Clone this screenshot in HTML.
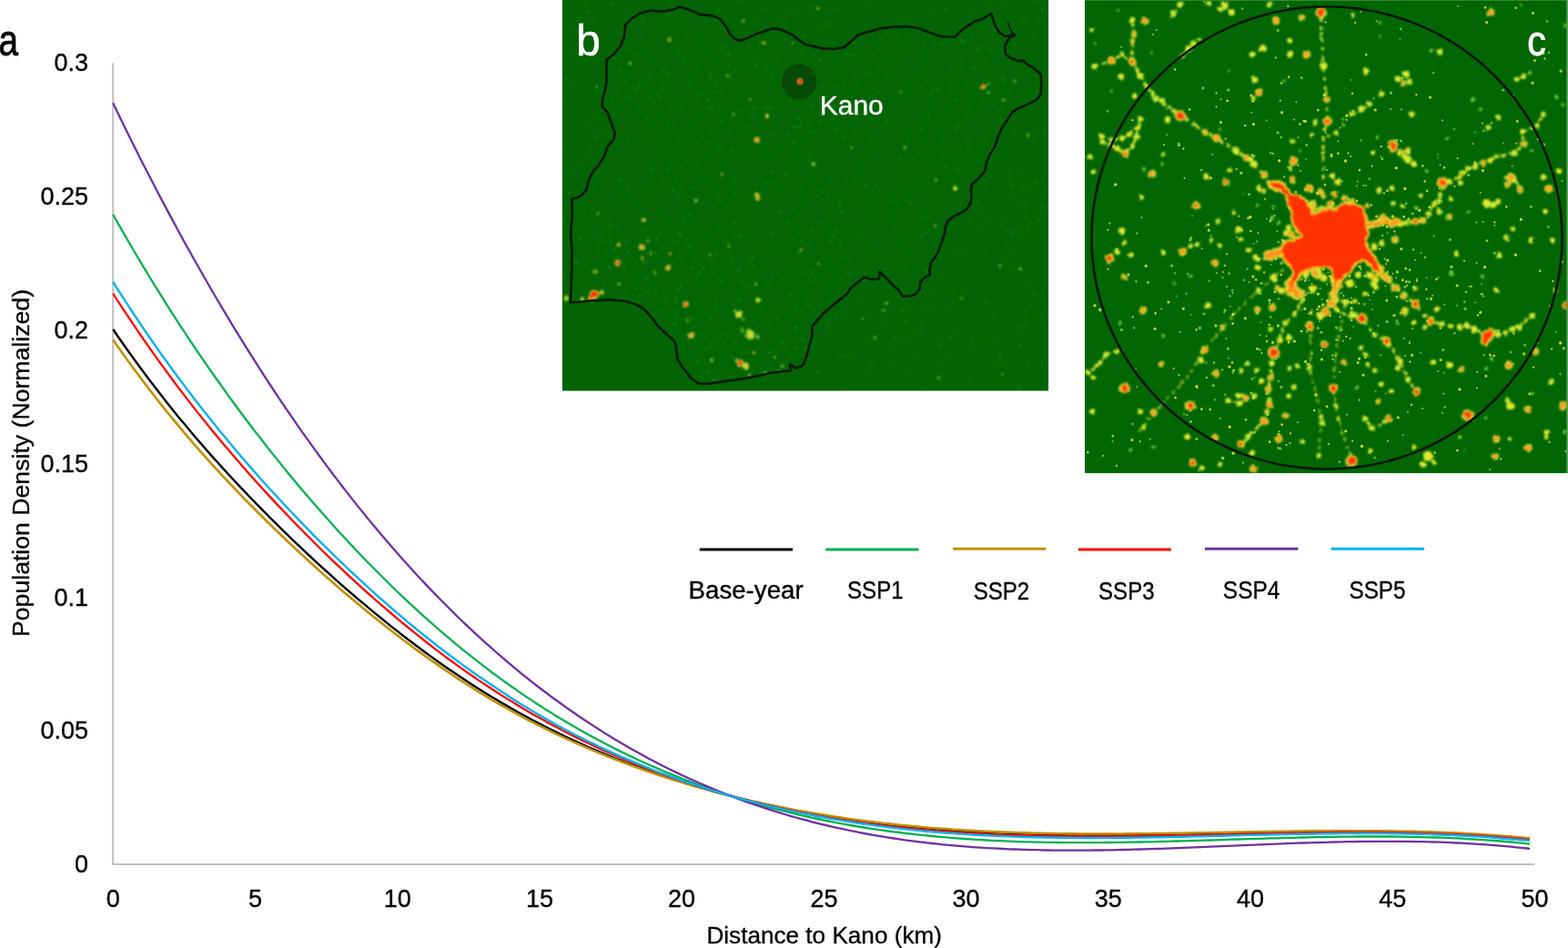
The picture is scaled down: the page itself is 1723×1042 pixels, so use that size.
<!DOCTYPE html>
<html lang="en"><head><meta charset="utf-8"><title>Population density vs distance to Kano</title>
<style>html,body{margin:0;padding:0;background:#fff;}body{width:1723px;height:1042px;overflow:hidden;}svg{display:block;}text{font-family:"Liberation Sans", sans-serif;}</style>
</head><body>
<svg width="1723" height="1042" viewBox="0 0 1723 1042">
<rect x="0" y="0" width="1723" height="1042" fill="#ffffff"/>
<g id="axes" stroke="#bfbfbf" stroke-width="2" fill="none" stroke-linejoin="round" stroke-linecap="round">
<path d="M124.2 70 V950 H1685.6"/>
</g>
<g id="curves" fill="none" stroke-linejoin="round" stroke-linecap="butt">
<path d="M124.2 362.0 L130.2 370.7 L136.2 379.2 L142.2 387.7 L148.2 396.0 L154.2 404.2 L160.2 412.3 L166.2 420.2 L172.2 428.1 L178.2 435.8 L184.2 443.4 L190.2 451.0 L196.2 458.4 L202.2 465.6 L208.2 472.8 L214.2 479.9 L220.2 486.9 L226.2 493.8 L232.2 500.6 L238.2 507.3 L244.2 513.9 L250.2 520.5 L256.2 527.0 L262.2 533.4 L268.2 539.7 L274.2 546.0 L280.2 552.2 L286.2 558.4 L292.2 564.4 L298.2 570.5 L304.2 576.4 L310.2 582.3 L316.2 588.2 L322.2 594.0 L328.2 599.7 L334.2 605.4 L340.2 611.0 L346.2 616.6 L352.2 622.1 L358.2 627.5 L364.2 632.9 L370.2 638.3 L376.2 643.6 L382.2 648.8 L388.2 654.0 L394.2 659.1 L400.2 664.2 L406.2 669.2 L412.2 674.1 L418.2 679.0 L424.2 683.9 L430.2 688.7 L436.2 693.4 L442.2 698.1 L448.2 702.7 L454.2 707.2 L460.2 711.8 L466.2 716.2 L472.2 720.6 L478.2 724.9 L484.2 729.2 L490.2 733.4 L496.2 737.5 L502.2 741.6 L508.2 745.6 L514.2 749.6 L520.2 753.4 L526.2 757.3 L532.2 761.0 L538.2 764.7 L544.2 768.3 L550.2 771.9 L556.2 775.4 L562.2 778.8 L568.2 782.2 L574.2 785.5 L580.2 788.8 L586.2 792.0 L592.2 795.1 L598.2 798.2 L604.2 801.3 L610.2 804.2 L616.2 807.2 L622.2 810.0 L628.2 812.8 L634.2 815.6 L640.2 818.3 L646.2 821.0 L652.2 823.6 L658.2 826.2 L664.2 828.7 L670.2 831.1 L676.2 833.6 L682.2 835.9 L688.2 838.3 L694.2 840.5 L700.2 842.8 L706.2 845.0 L712.2 847.1 L718.2 849.2 L724.2 851.3 L730.2 853.3 L736.2 855.3 L742.2 857.3 L748.2 859.2 L754.2 861.0 L760.2 862.9 L766.2 864.7 L772.2 866.4 L778.2 868.1 L784.2 869.8 L790.2 871.5 L796.2 873.1 L802.2 874.6 L808.2 876.2 L814.2 877.7 L820.2 879.1 L826.2 880.6 L832.2 881.9 L838.2 883.3 L844.2 884.6 L850.2 885.9 L856.2 887.2 L862.2 888.4 L868.2 889.6 L874.2 890.8 L880.2 891.9 L886.2 893.0 L892.2 894.1 L898.2 895.2 L904.2 896.2 L910.2 897.2 L916.2 898.1 L922.2 899.1 L928.2 900.0 L934.2 900.8 L940.2 901.7 L946.2 902.5 L952.2 903.3 L958.2 904.1 L964.2 904.8 L970.2 905.5 L976.2 906.2 L982.2 906.9 L988.2 907.5 L994.2 908.1 L1000.2 908.7 L1006.2 909.3 L1012.2 909.9 L1018.2 910.4 L1024.2 910.9 L1030.2 911.4 L1036.2 911.8 L1042.2 912.3 L1048.2 912.7 L1054.2 913.1 L1060.2 913.5 L1066.2 913.8 L1072.2 914.2 L1078.2 914.5 L1084.2 914.8 L1090.2 915.1 L1096.2 915.3 L1102.2 915.6 L1108.2 915.8 L1114.2 916.0 L1120.2 916.2 L1126.2 916.4 L1132.2 916.6 L1138.2 916.7 L1144.2 916.8 L1150.2 917.0 L1156.2 917.1 L1162.2 917.2 L1168.2 917.2 L1174.2 917.3 L1180.2 917.4 L1186.2 917.4 L1192.2 917.4 L1198.2 917.5 L1204.2 917.5 L1210.2 917.5 L1216.2 917.5 L1222.2 917.5 L1228.2 917.4 L1234.2 917.4 L1240.2 917.3 L1246.2 917.3 L1252.2 917.2 L1258.2 917.2 L1264.2 917.1 L1270.2 917.0 L1276.2 916.9 L1282.2 916.8 L1288.2 916.7 L1294.2 916.6 L1300.2 916.5 L1306.2 916.4 L1312.2 916.3 L1318.2 916.2 L1324.2 916.1 L1330.2 916.0 L1336.2 915.9 L1342.2 915.7 L1348.2 915.6 L1354.2 915.5 L1360.2 915.4 L1366.2 915.3 L1372.2 915.2 L1378.2 915.0 L1384.2 914.9 L1390.2 914.8 L1396.2 914.7 L1402.2 914.6 L1408.2 914.5 L1414.2 914.4 L1420.2 914.3 L1426.2 914.2 L1432.2 914.1 L1438.2 914.1 L1444.2 914.0 L1450.2 913.9 L1456.2 913.9 L1462.2 913.9 L1468.2 913.8 L1474.2 913.8 L1480.2 913.8 L1486.2 913.8 L1492.2 913.8 L1498.2 913.8 L1504.2 913.8 L1510.2 913.8 L1516.2 913.9 L1522.2 914.0 L1528.2 914.0 L1534.2 914.1 L1540.2 914.2 L1546.2 914.3 L1552.2 914.5 L1558.2 914.6 L1564.2 914.8 L1570.2 915.0 L1576.2 915.2 L1582.2 915.4 L1588.2 915.6 L1594.2 915.9 L1600.2 916.1 L1606.2 916.4 L1612.2 916.7 L1618.2 917.1 L1624.2 917.4 L1630.2 917.8 L1636.2 918.2 L1642.2 918.6 L1648.2 919.1 L1654.2 919.5 L1660.2 920.0 L1666.2 920.5 L1672.2 921.1 L1678.2 921.6 L1681.0 921.9" stroke="#000000" stroke-width="2.4"/>
<path d="M124.2 235.8 L130.2 246.4 L136.2 256.9 L142.2 267.3 L148.2 277.5 L154.2 287.6 L160.2 297.6 L166.2 307.5 L172.2 317.2 L178.2 326.9 L184.2 336.4 L190.2 345.8 L196.2 355.1 L202.2 364.2 L208.2 373.3 L214.2 382.3 L220.2 391.1 L226.2 399.8 L232.2 408.5 L238.2 417.0 L244.2 425.4 L250.2 433.8 L256.2 442.0 L262.2 450.2 L268.2 458.2 L274.2 466.2 L280.2 474.1 L286.2 481.8 L292.2 489.5 L298.2 497.1 L304.2 504.6 L310.2 512.1 L316.2 519.4 L322.2 526.7 L328.2 533.9 L334.2 541.0 L340.2 548.0 L346.2 555.0 L352.2 561.8 L358.2 568.6 L364.2 575.3 L370.2 582.0 L376.2 588.5 L382.2 595.0 L388.2 601.4 L394.2 607.8 L400.2 614.0 L406.2 620.2 L412.2 626.3 L418.2 632.3 L424.2 638.3 L430.2 644.2 L436.2 650.0 L442.2 655.7 L448.2 661.4 L454.2 666.9 L460.2 672.4 L466.2 677.9 L472.2 683.2 L478.2 688.5 L484.2 693.7 L490.2 698.9 L496.2 703.9 L502.2 708.9 L508.2 713.8 L514.2 718.7 L520.2 723.4 L526.2 728.1 L532.2 732.7 L538.2 737.3 L544.2 741.7 L550.2 746.1 L556.2 750.5 L562.2 754.7 L568.2 758.9 L574.2 763.1 L580.2 767.1 L586.2 771.1 L592.2 775.0 L598.2 778.9 L604.2 782.6 L610.2 786.4 L616.2 790.0 L622.2 793.6 L628.2 797.1 L634.2 800.6 L640.2 804.0 L646.2 807.3 L652.2 810.6 L658.2 813.8 L664.2 817.0 L670.2 820.1 L676.2 823.1 L682.2 826.1 L688.2 829.0 L694.2 831.9 L700.2 834.7 L706.2 837.5 L712.2 840.2 L718.2 842.8 L724.2 845.4 L730.2 848.0 L736.2 850.4 L742.2 852.9 L748.2 855.3 L754.2 857.6 L760.2 859.9 L766.2 862.2 L772.2 864.4 L778.2 866.5 L784.2 868.6 L790.2 870.6 L796.2 872.6 L802.2 874.6 L808.2 876.5 L814.2 878.4 L820.2 880.2 L826.2 882.0 L832.2 883.7 L838.2 885.4 L844.2 887.1 L850.2 888.7 L856.2 890.2 L862.2 891.7 L868.2 893.2 L874.2 894.7 L880.2 896.1 L886.2 897.4 L892.2 898.8 L898.2 900.0 L904.2 901.3 L910.2 902.5 L916.2 903.7 L922.2 904.8 L928.2 905.9 L934.2 907.0 L940.2 908.0 L946.2 909.0 L952.2 910.0 L958.2 910.9 L964.2 911.8 L970.2 912.6 L976.2 913.5 L982.2 914.3 L988.2 915.0 L994.2 915.8 L1000.2 916.5 L1006.2 917.2 L1012.2 917.8 L1018.2 918.4 L1024.2 919.0 L1030.2 919.6 L1036.2 920.1 L1042.2 920.6 L1048.2 921.1 L1054.2 921.6 L1060.2 922.0 L1066.2 922.4 L1072.2 922.8 L1078.2 923.2 L1084.2 923.5 L1090.2 923.8 L1096.2 924.1 L1102.2 924.4 L1108.2 924.6 L1114.2 924.9 L1120.2 925.1 L1126.2 925.3 L1132.2 925.4 L1138.2 925.6 L1144.2 925.7 L1150.2 925.8 L1156.2 925.9 L1162.2 926.0 L1168.2 926.1 L1174.2 926.1 L1180.2 926.1 L1186.2 926.2 L1192.2 926.2 L1198.2 926.2 L1204.2 926.1 L1210.2 926.1 L1216.2 926.0 L1222.2 926.0 L1228.2 925.9 L1234.2 925.8 L1240.2 925.7 L1246.2 925.6 L1252.2 925.5 L1258.2 925.4 L1264.2 925.3 L1270.2 925.1 L1276.2 925.0 L1282.2 924.8 L1288.2 924.7 L1294.2 924.5 L1300.2 924.4 L1306.2 924.2 L1312.2 924.0 L1318.2 923.8 L1324.2 923.6 L1330.2 923.5 L1336.2 923.3 L1342.2 923.1 L1348.2 922.9 L1354.2 922.7 L1360.2 922.5 L1366.2 922.3 L1372.2 922.1 L1378.2 922.0 L1384.2 921.8 L1390.2 921.6 L1396.2 921.4 L1402.2 921.3 L1408.2 921.1 L1414.2 920.9 L1420.2 920.8 L1426.2 920.6 L1432.2 920.5 L1438.2 920.3 L1444.2 920.2 L1450.2 920.1 L1456.2 920.0 L1462.2 919.9 L1468.2 919.8 L1474.2 919.7 L1480.2 919.6 L1486.2 919.6 L1492.2 919.5 L1498.2 919.5 L1504.2 919.5 L1510.2 919.5 L1516.2 919.5 L1522.2 919.5 L1528.2 919.5 L1534.2 919.6 L1540.2 919.7 L1546.2 919.8 L1552.2 919.9 L1558.2 920.0 L1564.2 920.1 L1570.2 920.3 L1576.2 920.5 L1582.2 920.7 L1588.2 920.9 L1594.2 921.2 L1600.2 921.4 L1606.2 921.7 L1612.2 922.1 L1618.2 922.4 L1624.2 922.8 L1630.2 923.2 L1636.2 923.6 L1642.2 924.0 L1648.2 924.5 L1654.2 925.0 L1660.2 925.5 L1666.2 926.1 L1672.2 926.6 L1678.2 927.3 L1681.0 927.6" stroke="#00b050" stroke-width="2.3"/>
<path d="M124.2 373.4 L130.2 382.0 L136.2 390.4 L142.2 398.7 L148.2 406.9 L154.2 415.0 L160.2 422.9 L166.2 430.7 L172.2 438.5 L178.2 446.1 L184.2 453.5 L190.2 460.9 L196.2 468.2 L202.2 475.3 L208.2 482.4 L214.2 489.3 L220.2 496.2 L226.2 502.9 L232.2 509.6 L238.2 516.1 L244.2 522.6 L250.2 529.0 L256.2 535.4 L262.2 541.6 L268.2 547.8 L274.2 554.0 L280.2 560.0 L286.2 566.0 L292.2 572.0 L298.2 577.9 L304.2 583.7 L310.2 589.5 L316.2 595.2 L322.2 600.9 L328.2 606.5 L334.2 612.0 L340.2 617.5 L346.2 623.0 L352.2 628.4 L358.2 633.7 L364.2 639.0 L370.2 644.2 L376.2 649.4 L382.2 654.5 L388.2 659.5 L394.2 664.6 L400.2 669.5 L406.2 674.4 L412.2 679.3 L418.2 684.1 L424.2 688.8 L430.2 693.5 L436.2 698.1 L442.2 702.7 L448.2 707.2 L454.2 711.7 L460.2 716.1 L466.2 720.4 L472.2 724.7 L478.2 728.9 L484.2 733.1 L490.2 737.2 L496.2 741.3 L502.2 745.3 L508.2 749.2 L514.2 753.0 L520.2 756.8 L526.2 760.6 L532.2 764.2 L538.2 767.8 L544.2 771.4 L550.2 774.8 L556.2 778.2 L562.2 781.6 L568.2 784.9 L574.2 788.1 L580.2 791.3 L586.2 794.4 L592.2 797.4 L598.2 800.4 L604.2 803.4 L610.2 806.3 L616.2 809.1 L622.2 811.9 L628.2 814.6 L634.2 817.3 L640.2 819.9 L646.2 822.5 L652.2 825.1 L658.2 827.6 L664.2 830.0 L670.2 832.4 L676.2 834.7 L682.2 837.0 L688.2 839.3 L694.2 841.5 L700.2 843.7 L706.2 845.8 L712.2 847.9 L718.2 850.0 L724.2 852.0 L730.2 853.9 L736.2 855.9 L742.2 857.8 L748.2 859.6 L754.2 861.4 L760.2 863.2 L766.2 864.9 L772.2 866.6 L778.2 868.3 L784.2 869.9 L790.2 871.5 L796.2 873.1 L802.2 874.6 L808.2 876.1 L814.2 877.6 L820.2 879.0 L826.2 880.4 L832.2 881.8 L838.2 883.1 L844.2 884.4 L850.2 885.6 L856.2 886.9 L862.2 888.1 L868.2 889.2 L874.2 890.4 L880.2 891.5 L886.2 892.6 L892.2 893.6 L898.2 894.6 L904.2 895.6 L910.2 896.6 L916.2 897.5 L922.2 898.4 L928.2 899.3 L934.2 900.2 L940.2 901.0 L946.2 901.8 L952.2 902.6 L958.2 903.3 L964.2 904.0 L970.2 904.7 L976.2 905.4 L982.2 906.1 L988.2 906.7 L994.2 907.3 L1000.2 907.9 L1006.2 908.4 L1012.2 909.0 L1018.2 909.5 L1024.2 910.0 L1030.2 910.5 L1036.2 910.9 L1042.2 911.3 L1048.2 911.8 L1054.2 912.1 L1060.2 912.5 L1066.2 912.9 L1072.2 913.2 L1078.2 913.5 L1084.2 913.8 L1090.2 914.1 L1096.2 914.4 L1102.2 914.6 L1108.2 914.8 L1114.2 915.0 L1120.2 915.2 L1126.2 915.4 L1132.2 915.6 L1138.2 915.7 L1144.2 915.9 L1150.2 916.0 L1156.2 916.1 L1162.2 916.2 L1168.2 916.3 L1174.2 916.4 L1180.2 916.4 L1186.2 916.5 L1192.2 916.5 L1198.2 916.5 L1204.2 916.5 L1210.2 916.5 L1216.2 916.5 L1222.2 916.5 L1228.2 916.5 L1234.2 916.5 L1240.2 916.4 L1246.2 916.4 L1252.2 916.3 L1258.2 916.3 L1264.2 916.2 L1270.2 916.1 L1276.2 916.1 L1282.2 916.0 L1288.2 915.9 L1294.2 915.8 L1300.2 915.7 L1306.2 915.6 L1312.2 915.5 L1318.2 915.4 L1324.2 915.3 L1330.2 915.2 L1336.2 915.1 L1342.2 915.0 L1348.2 914.9 L1354.2 914.7 L1360.2 914.6 L1366.2 914.5 L1372.2 914.4 L1378.2 914.3 L1384.2 914.2 L1390.2 914.1 L1396.2 914.0 L1402.2 913.9 L1408.2 913.8 L1414.2 913.7 L1420.2 913.6 L1426.2 913.6 L1432.2 913.5 L1438.2 913.4 L1444.2 913.4 L1450.2 913.3 L1456.2 913.3 L1462.2 913.2 L1468.2 913.2 L1474.2 913.2 L1480.2 913.2 L1486.2 913.2 L1492.2 913.2 L1498.2 913.2 L1504.2 913.2 L1510.2 913.3 L1516.2 913.3 L1522.2 913.4 L1528.2 913.5 L1534.2 913.5 L1540.2 913.7 L1546.2 913.8 L1552.2 913.9 L1558.2 914.1 L1564.2 914.2 L1570.2 914.4 L1576.2 914.6 L1582.2 914.8 L1588.2 915.1 L1594.2 915.3 L1600.2 915.6 L1606.2 915.9 L1612.2 916.2 L1618.2 916.5 L1624.2 916.9 L1630.2 917.3 L1636.2 917.7 L1642.2 918.1 L1648.2 918.5 L1654.2 919.0 L1660.2 919.5 L1666.2 920.0 L1672.2 920.5 L1678.2 921.1 L1681.0 921.3" stroke="#bf9000" stroke-width="2.6"/>
<path d="M124.2 322.7 L130.2 332.0 L136.2 341.2 L142.2 350.2 L148.2 359.1 L154.2 367.9 L160.2 376.6 L166.2 385.2 L172.2 393.6 L178.2 401.9 L184.2 410.2 L190.2 418.3 L196.2 426.2 L202.2 434.1 L208.2 441.9 L214.2 449.6 L220.2 457.1 L226.2 464.6 L232.2 472.0 L238.2 479.3 L244.2 486.5 L250.2 493.6 L256.2 500.6 L262.2 507.5 L268.2 514.4 L274.2 521.2 L280.2 528.0 L286.2 534.6 L292.2 541.2 L298.2 547.6 L304.2 554.1 L310.2 560.4 L316.2 566.7 L322.2 573.0 L328.2 579.1 L334.2 585.2 L340.2 591.3 L346.2 597.3 L352.2 603.2 L358.2 609.0 L364.2 614.8 L370.2 620.6 L376.2 626.2 L382.2 631.8 L388.2 637.4 L394.2 642.9 L400.2 648.3 L406.2 653.7 L412.2 659.0 L418.2 664.2 L424.2 669.4 L430.2 674.5 L436.2 679.6 L442.2 684.6 L448.2 689.5 L454.2 694.4 L460.2 699.2 L466.2 704.0 L472.2 708.7 L478.2 713.3 L484.2 717.8 L490.2 722.3 L496.2 726.7 L502.2 731.1 L508.2 735.4 L514.2 739.6 L520.2 743.8 L526.2 747.9 L532.2 751.9 L538.2 755.8 L544.2 759.7 L550.2 763.6 L556.2 767.4 L562.2 771.1 L568.2 774.8 L574.2 778.4 L580.2 781.9 L586.2 785.4 L592.2 788.8 L598.2 792.1 L604.2 795.4 L610.2 798.6 L616.2 801.8 L622.2 804.9 L628.2 808.0 L634.2 810.9 L640.2 813.9 L646.2 816.8 L652.2 819.6 L658.2 822.4 L664.2 825.1 L670.2 827.8 L676.2 830.4 L682.2 833.0 L688.2 835.5 L694.2 837.9 L700.2 840.4 L706.2 842.7 L712.2 845.1 L718.2 847.3 L724.2 849.6 L730.2 851.8 L736.2 853.9 L742.2 856.0 L748.2 858.0 L754.2 860.0 L760.2 862.0 L766.2 863.9 L772.2 865.8 L778.2 867.7 L784.2 869.5 L790.2 871.2 L796.2 872.9 L802.2 874.6 L808.2 876.3 L814.2 877.9 L820.2 879.4 L826.2 881.0 L832.2 882.4 L838.2 883.9 L844.2 885.3 L850.2 886.7 L856.2 888.0 L862.2 889.3 L868.2 890.6 L874.2 891.8 L880.2 893.1 L886.2 894.2 L892.2 895.4 L898.2 896.5 L904.2 897.5 L910.2 898.6 L916.2 899.6 L922.2 900.6 L928.2 901.5 L934.2 902.4 L940.2 903.3 L946.2 904.2 L952.2 905.0 L958.2 905.8 L964.2 906.6 L970.2 907.3 L976.2 908.0 L982.2 908.7 L988.2 909.4 L994.2 910.0 L1000.2 910.7 L1006.2 911.2 L1012.2 911.8 L1018.2 912.3 L1024.2 912.9 L1030.2 913.4 L1036.2 913.8 L1042.2 914.3 L1048.2 914.7 L1054.2 915.1 L1060.2 915.5 L1066.2 915.8 L1072.2 916.2 L1078.2 916.5 L1084.2 916.8 L1090.2 917.1 L1096.2 917.3 L1102.2 917.6 L1108.2 917.8 L1114.2 918.0 L1120.2 918.2 L1126.2 918.4 L1132.2 918.5 L1138.2 918.7 L1144.2 918.8 L1150.2 918.9 L1156.2 919.0 L1162.2 919.1 L1168.2 919.1 L1174.2 919.2 L1180.2 919.2 L1186.2 919.3 L1192.2 919.3 L1198.2 919.3 L1204.2 919.3 L1210.2 919.3 L1216.2 919.2 L1222.2 919.2 L1228.2 919.2 L1234.2 919.1 L1240.2 919.1 L1246.2 919.0 L1252.2 918.9 L1258.2 918.8 L1264.2 918.8 L1270.2 918.7 L1276.2 918.6 L1282.2 918.5 L1288.2 918.4 L1294.2 918.3 L1300.2 918.1 L1306.2 918.0 L1312.2 917.9 L1318.2 917.8 L1324.2 917.6 L1330.2 917.5 L1336.2 917.4 L1342.2 917.2 L1348.2 917.1 L1354.2 917.0 L1360.2 916.8 L1366.2 916.7 L1372.2 916.6 L1378.2 916.4 L1384.2 916.3 L1390.2 916.2 L1396.2 916.1 L1402.2 916.0 L1408.2 915.8 L1414.2 915.7 L1420.2 915.6 L1426.2 915.5 L1432.2 915.4 L1438.2 915.4 L1444.2 915.3 L1450.2 915.2 L1456.2 915.1 L1462.2 915.1 L1468.2 915.0 L1474.2 915.0 L1480.2 915.0 L1486.2 914.9 L1492.2 914.9 L1498.2 914.9 L1504.2 915.0 L1510.2 915.0 L1516.2 915.0 L1522.2 915.1 L1528.2 915.2 L1534.2 915.2 L1540.2 915.3 L1546.2 915.4 L1552.2 915.6 L1558.2 915.7 L1564.2 915.9 L1570.2 916.1 L1576.2 916.3 L1582.2 916.5 L1588.2 916.7 L1594.2 917.0 L1600.2 917.2 L1606.2 917.5 L1612.2 917.8 L1618.2 918.2 L1624.2 918.5 L1630.2 918.9 L1636.2 919.3 L1642.2 919.7 L1648.2 920.2 L1654.2 920.6 L1660.2 921.1 L1666.2 921.7 L1672.2 922.2 L1678.2 922.8 L1681.0 923.1" stroke="#ff0000" stroke-width="2.3"/>
<path d="M124.2 113.3 L130.2 125.7 L136.2 138.0 L142.2 150.2 L148.2 162.2 L154.2 174.2 L160.2 185.9 L166.2 197.6 L172.2 209.2 L178.2 220.6 L184.2 231.9 L190.2 243.1 L196.2 254.2 L202.2 265.2 L208.2 276.0 L214.2 286.7 L220.2 297.3 L226.2 307.8 L232.2 318.2 L238.2 328.5 L244.2 338.6 L250.2 348.7 L256.2 358.6 L262.2 368.4 L268.2 378.1 L274.2 387.7 L280.2 397.2 L286.2 406.6 L292.2 415.9 L298.2 425.0 L304.2 434.1 L310.2 443.1 L316.2 451.9 L322.2 460.6 L328.2 469.3 L334.2 477.8 L340.2 486.2 L346.2 494.6 L352.2 502.8 L358.2 510.9 L364.2 519.0 L370.2 526.9 L376.2 534.7 L382.2 542.4 L388.2 550.1 L394.2 557.6 L400.2 565.0 L406.2 572.4 L412.2 579.6 L418.2 586.8 L424.2 593.8 L430.2 600.8 L436.2 607.6 L442.2 614.4 L448.2 621.1 L454.2 627.7 L460.2 634.2 L466.2 640.6 L472.2 646.9 L478.2 653.1 L484.2 659.3 L490.2 665.3 L496.2 671.3 L502.2 677.2 L508.2 683.0 L514.2 688.7 L520.2 694.3 L526.2 699.9 L532.2 705.3 L538.2 710.7 L544.2 716.0 L550.2 721.2 L556.2 726.3 L562.2 731.4 L568.2 736.4 L574.2 741.3 L580.2 746.1 L586.2 750.8 L592.2 755.5 L598.2 760.0 L604.2 764.6 L610.2 769.0 L616.2 773.3 L622.2 777.6 L628.2 781.8 L634.2 786.0 L640.2 790.0 L646.2 794.0 L652.2 797.9 L658.2 801.8 L664.2 805.6 L670.2 809.3 L676.2 812.9 L682.2 816.5 L688.2 820.0 L694.2 823.4 L700.2 826.8 L706.2 830.1 L712.2 833.4 L718.2 836.5 L724.2 839.7 L730.2 842.7 L736.2 845.7 L742.2 848.6 L748.2 851.5 L754.2 854.3 L760.2 857.0 L766.2 859.7 L772.2 862.3 L778.2 864.9 L784.2 867.4 L790.2 869.9 L796.2 872.2 L802.2 874.6 L808.2 876.9 L814.2 879.1 L820.2 881.3 L826.2 883.4 L832.2 885.4 L838.2 887.5 L844.2 889.4 L850.2 891.3 L856.2 893.2 L862.2 895.0 L868.2 896.8 L874.2 898.5 L880.2 900.1 L886.2 901.7 L892.2 903.3 L898.2 904.8 L904.2 906.3 L910.2 907.7 L916.2 909.1 L922.2 910.4 L928.2 911.7 L934.2 913.0 L940.2 914.2 L946.2 915.4 L952.2 916.5 L958.2 917.6 L964.2 918.6 L970.2 919.6 L976.2 920.6 L982.2 921.5 L988.2 922.4 L994.2 923.3 L1000.2 924.1 L1006.2 924.9 L1012.2 925.6 L1018.2 926.3 L1024.2 927.0 L1030.2 927.7 L1036.2 928.3 L1042.2 928.9 L1048.2 929.4 L1054.2 929.9 L1060.2 930.4 L1066.2 930.9 L1072.2 931.3 L1078.2 931.7 L1084.2 932.1 L1090.2 932.4 L1096.2 932.7 L1102.2 933.0 L1108.2 933.3 L1114.2 933.5 L1120.2 933.7 L1126.2 933.9 L1132.2 934.1 L1138.2 934.2 L1144.2 934.4 L1150.2 934.5 L1156.2 934.6 L1162.2 934.6 L1168.2 934.7 L1174.2 934.7 L1180.2 934.7 L1186.2 934.7 L1192.2 934.6 L1198.2 934.6 L1204.2 934.5 L1210.2 934.5 L1216.2 934.4 L1222.2 934.3 L1228.2 934.1 L1234.2 934.0 L1240.2 933.9 L1246.2 933.7 L1252.2 933.5 L1258.2 933.4 L1264.2 933.2 L1270.2 933.0 L1276.2 932.8 L1282.2 932.6 L1288.2 932.3 L1294.2 932.1 L1300.2 931.9 L1306.2 931.6 L1312.2 931.4 L1318.2 931.2 L1324.2 930.9 L1330.2 930.7 L1336.2 930.4 L1342.2 930.1 L1348.2 929.9 L1354.2 929.6 L1360.2 929.4 L1366.2 929.1 L1372.2 928.9 L1378.2 928.6 L1384.2 928.4 L1390.2 928.1 L1396.2 927.9 L1402.2 927.6 L1408.2 927.4 L1414.2 927.2 L1420.2 926.9 L1426.2 926.7 L1432.2 926.5 L1438.2 926.3 L1444.2 926.1 L1450.2 926.0 L1456.2 925.8 L1462.2 925.6 L1468.2 925.5 L1474.2 925.3 L1480.2 925.2 L1486.2 925.1 L1492.2 925.0 L1498.2 924.9 L1504.2 924.9 L1510.2 924.8 L1516.2 924.8 L1522.2 924.8 L1528.2 924.8 L1534.2 924.8 L1540.2 924.9 L1546.2 924.9 L1552.2 925.0 L1558.2 925.1 L1564.2 925.2 L1570.2 925.4 L1576.2 925.5 L1582.2 925.7 L1588.2 925.9 L1594.2 926.2 L1600.2 926.5 L1606.2 926.7 L1612.2 927.1 L1618.2 927.4 L1624.2 927.8 L1630.2 928.2 L1636.2 928.6 L1642.2 929.1 L1648.2 929.6 L1654.2 930.1 L1660.2 930.7 L1666.2 931.3 L1672.2 931.9 L1678.2 932.5 L1681.0 932.8" stroke="#7030a0" stroke-width="2.3"/>
<path d="M124.2 310.0 L130.2 319.4 L136.2 328.7 L142.2 337.9 L148.2 347.0 L154.2 355.9 L160.2 364.8 L166.2 373.5 L172.2 382.1 L178.2 390.6 L184.2 399.0 L190.2 407.2 L196.2 415.4 L202.2 423.4 L208.2 431.3 L214.2 439.2 L220.2 446.9 L226.2 454.5 L232.2 462.1 L238.2 469.5 L244.2 476.9 L250.2 484.1 L256.2 491.3 L262.2 498.4 L268.2 505.5 L274.2 512.4 L280.2 519.3 L286.2 526.1 L292.2 532.7 L298.2 539.3 L304.2 545.8 L310.2 552.3 L316.2 558.7 L322.2 565.0 L328.2 571.3 L334.2 577.5 L340.2 583.7 L346.2 589.8 L352.2 595.8 L358.2 601.7 L364.2 607.6 L370.2 613.5 L376.2 619.2 L382.2 625.0 L388.2 630.6 L394.2 636.2 L400.2 641.7 L406.2 647.2 L412.2 652.6 L418.2 658.0 L424.2 663.2 L430.2 668.5 L436.2 673.6 L442.2 678.7 L448.2 683.8 L454.2 688.7 L460.2 693.7 L466.2 698.5 L472.2 703.3 L478.2 708.0 L484.2 712.7 L490.2 717.3 L496.2 721.8 L502.2 726.2 L508.2 730.6 L514.2 735.0 L520.2 739.2 L526.2 743.4 L532.2 747.5 L538.2 751.6 L544.2 755.6 L550.2 759.6 L556.2 763.5 L562.2 767.4 L568.2 771.2 L574.2 774.9 L580.2 778.6 L586.2 782.2 L592.2 785.7 L598.2 789.2 L604.2 792.6 L610.2 796.0 L616.2 799.3 L622.2 802.5 L628.2 805.7 L634.2 808.8 L640.2 811.8 L646.2 814.8 L652.2 817.7 L658.2 820.6 L664.2 823.4 L670.2 826.2 L676.2 828.9 L682.2 831.6 L688.2 834.2 L694.2 836.7 L700.2 839.2 L706.2 841.7 L712.2 844.1 L718.2 846.5 L724.2 848.8 L730.2 851.0 L736.2 853.2 L742.2 855.4 L748.2 857.5 L754.2 859.6 L760.2 861.6 L766.2 863.6 L772.2 865.6 L778.2 867.5 L784.2 869.3 L790.2 871.1 L796.2 872.9 L802.2 874.6 L808.2 876.3 L814.2 878.0 L820.2 879.6 L826.2 881.1 L832.2 882.7 L838.2 884.2 L844.2 885.6 L850.2 887.1 L856.2 888.4 L862.2 889.8 L868.2 891.1 L874.2 892.4 L880.2 893.6 L886.2 894.8 L892.2 896.0 L898.2 897.2 L904.2 898.3 L910.2 899.4 L916.2 900.4 L922.2 901.4 L928.2 902.4 L934.2 903.3 L940.2 904.3 L946.2 905.2 L952.2 906.0 L958.2 906.9 L964.2 907.7 L970.2 908.4 L976.2 909.2 L982.2 909.9 L988.2 910.6 L994.2 911.3 L1000.2 911.9 L1006.2 912.5 L1012.2 913.1 L1018.2 913.7 L1024.2 914.2 L1030.2 914.7 L1036.2 915.2 L1042.2 915.7 L1048.2 916.1 L1054.2 916.5 L1060.2 916.9 L1066.2 917.3 L1072.2 917.7 L1078.2 918.0 L1084.2 918.3 L1090.2 918.6 L1096.2 918.9 L1102.2 919.1 L1108.2 919.4 L1114.2 919.6 L1120.2 919.8 L1126.2 920.0 L1132.2 920.1 L1138.2 920.3 L1144.2 920.4 L1150.2 920.5 L1156.2 920.6 L1162.2 920.7 L1168.2 920.8 L1174.2 920.9 L1180.2 920.9 L1186.2 920.9 L1192.2 921.0 L1198.2 921.0 L1204.2 921.0 L1210.2 920.9 L1216.2 920.9 L1222.2 920.9 L1228.2 920.8 L1234.2 920.8 L1240.2 920.7 L1246.2 920.6 L1252.2 920.6 L1258.2 920.5 L1264.2 920.4 L1270.2 920.3 L1276.2 920.2 L1282.2 920.0 L1288.2 919.9 L1294.2 919.8 L1300.2 919.7 L1306.2 919.5 L1312.2 919.4 L1318.2 919.3 L1324.2 919.1 L1330.2 919.0 L1336.2 918.8 L1342.2 918.7 L1348.2 918.5 L1354.2 918.4 L1360.2 918.2 L1366.2 918.1 L1372.2 917.9 L1378.2 917.8 L1384.2 917.6 L1390.2 917.5 L1396.2 917.4 L1402.2 917.2 L1408.2 917.1 L1414.2 917.0 L1420.2 916.9 L1426.2 916.8 L1432.2 916.7 L1438.2 916.6 L1444.2 916.5 L1450.2 916.4 L1456.2 916.3 L1462.2 916.2 L1468.2 916.2 L1474.2 916.1 L1480.2 916.1 L1486.2 916.1 L1492.2 916.0 L1498.2 916.0 L1504.2 916.0 L1510.2 916.1 L1516.2 916.1 L1522.2 916.1 L1528.2 916.2 L1534.2 916.3 L1540.2 916.4 L1546.2 916.5 L1552.2 916.6 L1558.2 916.7 L1564.2 916.9 L1570.2 917.1 L1576.2 917.3 L1582.2 917.5 L1588.2 917.7 L1594.2 917.9 L1600.2 918.2 L1606.2 918.5 L1612.2 918.8 L1618.2 919.2 L1624.2 919.5 L1630.2 919.9 L1636.2 920.3 L1642.2 920.7 L1648.2 921.2 L1654.2 921.7 L1660.2 922.2 L1666.2 922.7 L1672.2 923.2 L1678.2 923.8 L1681.0 924.1" stroke="#00b0f0" stroke-width="2.4"/>
</g>
<g id="yticks" font-size="27" fill="#000" text-anchor="end" stroke="#000" stroke-width="0.35">
<text x="97" y="959.2">0</text>
<text x="97" y="812.4">0.05</text>
<text x="97" y="665.5">0.1</text>
<text x="97" y="518.7">0.15</text>
<text x="97" y="371.9">0.2</text>
<text x="97" y="225.0">0.25</text>
<text x="97" y="78.2">0.3</text>
</g>
<g id="xticks" font-size="27" fill="#000" text-anchor="middle" stroke="#000" stroke-width="0.35">
<text x="124.2" y="996.7">0</text>
<text x="280.4" y="996.7">5</text>
<text x="436.7" y="996.7">10</text>
<text x="592.9" y="996.7">15</text>
<text x="749.1" y="996.7">20</text>
<text x="905.4" y="996.7">25</text>
<text x="1061.6" y="996.7">30</text>
<text x="1217.8" y="996.7">35</text>
<text x="1374.0" y="996.7">40</text>
<text x="1530.3" y="996.7">45</text>
<text x="1686.5" y="996.7">50</text>
</g>
<text id="xtitle" stroke="#000" stroke-width="0.3" x="905.7" y="1036.6" font-size="25" text-anchor="middle" textLength="258.5" lengthAdjust="spacingAndGlyphs">Distance to Kano (km)</text>
<text id="ytitle" stroke="#000" stroke-width="0.3" transform="translate(31.7 509) rotate(-90)" font-size="25" text-anchor="middle" textLength="382" lengthAdjust="spacingAndGlyphs">Population Density (Normalized)</text>
<text id="la" stroke="#000" stroke-width="0.9" x="-1.5" y="61.2" font-size="48" textLength="21.5" lengthAdjust="spacingAndGlyphs">a</text>
<g id="legend" font-size="27" text-anchor="middle" fill="#000">
<line x1="768.8" y1="603.9" x2="871.1" y2="603.9" stroke="#000000" stroke-width="3"/>
<text x="819.6" y="658.0" textLength="126" lengthAdjust="spacingAndGlyphs" stroke="#000" stroke-width="0.35">Base-year</text>
<line x1="907.2" y1="603.9" x2="1009.6" y2="603.9" stroke="#00b050" stroke-width="3"/>
<text x="961.8" y="658.0" textLength="61.5" lengthAdjust="spacingAndGlyphs" stroke="#000" stroke-width="0.35">SSP1</text>
<line x1="1047.1" y1="603.2" x2="1149.5" y2="603.2" stroke="#bf9000" stroke-width="3"/>
<text x="1100.5" y="659.2" textLength="61.5" lengthAdjust="spacingAndGlyphs" stroke="#000" stroke-width="0.35">SSP2</text>
<line x1="1184.9" y1="603.9" x2="1287.0" y2="603.9" stroke="#ff0000" stroke-width="3"/>
<text x="1237.8" y="659.2" textLength="61.5" lengthAdjust="spacingAndGlyphs" stroke="#000" stroke-width="0.35">SSP3</text>
<line x1="1324.0" y1="603.2" x2="1426.4" y2="603.2" stroke="#7030a0" stroke-width="3"/>
<text x="1375.1" y="658.0" textLength="62.5" lengthAdjust="spacingAndGlyphs" stroke="#000" stroke-width="0.35">SSP4</text>
<line x1="1462.7" y1="603.2" x2="1565.1" y2="603.2" stroke="#00b0f0" stroke-width="3"/>
<text x="1513.5" y="658.0" textLength="62" lengthAdjust="spacingAndGlyphs" stroke="#000" stroke-width="0.35">SSP5</text>
</g>
<g id="mapb" clip-path="url(#clipb)">
<defs><clipPath id="clipb"><rect x="617.7" y="0.0" width="534.6" height="429.7"/></clipPath>
<filter id="softb" x="-5%" y="-5%" width="110%" height="110%"><feGaussianBlur stdDeviation="0.8"/></filter>
<filter id="roughb" filterUnits="userSpaceOnUse" x="610" y="-8" width="550" height="446"><feTurbulence type="fractalNoise" baseFrequency="0.2" numOctaves="2" seed="9" result="n"/><feDisplacementMap in="SourceGraphic" in2="n" scale="4" xChannelSelector="R" yChannelSelector="G"/><feGaussianBlur stdDeviation="0.8"/></filter></defs>
<rect x="617.7" y="0.0" width="534.6" height="429.7" fill="#036403"/>
<path d="M617.7 333.0 L626.5 332.6 L635.9 332.2 L652.7 330.1 L669.4 329.1 L686.1 331.2 L698.7 334.3 L707.1 339.5 L715.4 347.9 L723.8 358.4 L732.2 366.8 L740.5 375.1 L742.6 381.4 L744.7 394.0 L751.0 404.4 L759.4 414.9 L767.8 421.2 L778.2 422.2 L792.9 420.1 L807.5 418.0 L820.1 415.9 L832.6 412.8 L845.2 410.7 L857.7 408.6 L869.2 407.6 L868.2 400.2 L874.5 404.4 L880.7 402.3 L890.0 404.0 L905.0 418.0 L925.0 429.7 L617.7 429.7Z" fill="#026302" fill-opacity="0.25"/>
<path d="M626.8 332.5 L627.6 318.4 L628.2 297.6 L628.5 276.3 L627.1 256.3 L628.8 234.7 L628.5 219.1 L633.2 217.3 L637.9 215.5 L644.5 208.8 L646.4 198.6 L652.0 187.9 L657.0 182.4 L663.9 172.0 L667.7 160.6 L673.8 154.3 L675.7 146.4 L671.2 133.7 L667.6 123.3 L661.7 117.4 L662.0 109.1 L665.0 98.2 L666.6 87.9 L666.3 77.2 L666.8 65.3 L675.3 58.9 L681.8 50.7 L686.0 40.2 L687.2 26.9 L694.8 20.1 L703.1 14.6 L715.2 11.6 L727.6 12.7 L740.7 10.3 L747.1 7.6 L757.2 10.8 L769.7 15.9 L782.5 17.2 L791.3 21.1 L797.4 28.9 L802.5 38.0 L807.4 42.9 L813.8 44.8 L822.0 41.8 L830.0 37.6 L841.1 33.9 L849.8 31.2 L860.3 33.2 L870.6 38.4 L878.6 44.6 L885.3 48.9 L891.0 50.2 L903.7 53.4 L916.5 54.0 L927.3 52.1 L935.3 45.6 L943.2 38.4 L954.0 35.0 L967.1 31.4 L981.3 29.5 L996.4 29.1 L1008.8 30.9 L1019.1 34.8 L1029.5 38.9 L1038.0 40.3 L1049.9 40.5 L1054.3 35.3 L1062.5 29.0 L1071.4 23.4 L1079.5 20.8 L1085.9 16.9 L1089.4 15.1 L1091.1 21.1 L1094.2 29.6 L1098.3 35.9 L1104.8 40.0 L1112.2 38.5 L1107.9 43.5 L1104.3 50.2 L1104.8 58.9 L1110.6 63.9 L1119.4 67.1 L1123.9 66.6 L1127.9 70.1 L1136.3 75.1 L1143.6 81.8 L1144.3 92.6 L1143.8 103.0 L1139.1 109.8 L1129.7 114.6 L1119.0 119.0 L1112.5 123.1 L1107.1 131.6 L1100.2 142.0 L1096.6 150.7 L1093.3 161.1 L1087.8 169.5 L1084.3 177.6 L1082.0 188.1 L1075.2 196.5 L1067.8 202.4 L1067.0 211.0 L1067.7 213.6 L1066.9 222.3 L1063.1 229.1 L1057.1 233.6 L1048.4 237.4 L1041.6 242.6 L1038.8 249.9 L1037.7 258.1 L1034.7 265.9 L1031.8 275.0 L1027.4 282.9 L1022.6 289.2 L1021.5 297.6 L1022.0 301.7 L1016.5 304.8 L1011.4 309.8 L1010.7 317.5 L1006.0 323.5 L999.6 325.6 L991.7 325.4 L987.2 318.5 L981.6 314.0 L974.6 306.5 L969.0 301.6 L966.7 298.5 L966.0 306.5 L957.9 307.1 L949.6 304.9 L943.9 309.4 L935.0 316.4 L931.1 322.7 L922.9 329.4 L914.2 336.4 L905.6 343.6 L898.1 352.1 L892.5 358.5 L892.5 369.1 L889.0 381.2 L885.5 394.0 L883.5 398.8 L881.0 402.3 L874.4 404.8 L867.8 400.2 L869.0 407.4 L858.0 408.5 L845.5 410.2 L833.1 413.2 L820.2 415.6 L807.7 417.7 L792.7 419.6 L777.8 421.9 L767.4 421.5 L759.1 415.2 L750.5 404.0 L744.3 394.4 L743.0 380.9 L741.0 374.8 L731.9 366.8 L723.5 358.9 L715.3 348.0 L707.1 339.3 L698.9 334.8 L686.2 330.8 L669.7 329.3 L652.7 330.3 L635.7 332.0Z" fill="#0a780a" fill-opacity="0.08"/>
<g filter="url(#softb)" fill="none" stroke-linecap="round" stroke-linejoin="round">
<path d="M755.2 66.9h0M1065.6 98.3h0M777.2 5.6h0M1031.4 258.1h0M981.7 248.0h0M805.2 208.4h0M915.6 259.2h0M1046.7 176.7h0M688.9 266.9h0M747.0 67.9h0M640.3 25.1h0M1114.4 117.4h0M820.9 292.2h0M837.9 328.2h0M1150.9 105.7h0M826.7 78.4h0M941.0 394.7h0M916.3 278.0h0M1143.0 344.9h0M1043.9 115.8h0M910.5 313.0h0M719.7 110.9h0M1109.1 91.3h0M754.5 50.1h0M763.0 259.1h0M777.1 59.9h0M1144.5 326.2h0M1070.3 187.8h0M751.0 17.5h0M818.4 412.6h0M708.2 81.4h0M758.2 185.9h0M1009.4 169.1h0M808.0 86.1h0M1090.1 410.3h0M756.3 388.2h0M1140.8 83.7h0M703.2 324.4h0M764.6 359.2h0M894.7 225.0h0M828.6 308.4h0M830.8 88.8h0M681.5 118.2h0M906.9 283.3h0M820.5 174.8h0M1047.5 320.5h0M814.2 408.2h0M879.0 151.1h0M757.7 254.6h0M692.3 287.6h0M744.9 213.3h0M622.5 74.4h0M1137.7 5.3h0M1138.1 81.7h0M1043.8 194.8h0M822.2 256.1h0M1016.9 53.2h0M856.9 34.7h0M959.4 156.4h0M788.5 11.2h0M678.2 284.3h0M916.6 152.4h0M768.8 303.0h0M641.9 267.7h0M766.4 162.3h0M848.5 274.0h0M883.9 279.9h0M773.8 33.0h0M753.1 104.1h0M797.4 56.1h0M736.3 370.4h0M817.0 212.7h0M791.4 355.5h0M890.0 296.3h0M632.6 243.3h0M819.2 138.0h0M970.9 418.0h0M988.9 191.9h0M1052.5 408.5h0M995.2 338.0h0M661.9 251.8h0M1022.7 116.0h0M1110.3 190.0h0M956.0 83.7h0M704.2 279.6h0M802.1 120.2h0M1142.9 251.3h0M720.6 261.0h0M988.4 49.8h0M885.1 330.1h0M921.7 390.2h0M825.1 123.2h0M1006.4 252.4h0M799.0 227.8h0M1012.0 93.9h0M633.8 309.0h0M791.1 46.4h0M1095.4 112.2h0M882.2 120.4h0M936.8 45.3h0M735.8 273.0h0M891.1 62.6h0M914.7 169.3h0M917.2 182.7h0M857.2 209.3h0M679.0 197.6h0M957.5 43.9h0M700.3 330.9h0M917.9 55.0h0M757.1 84.3h0M786.4 337.4h0M946.6 48.7h0M841.7 246.3h0M790.5 143.0h0M1087.4 239.9h0M714.5 195.2h0M770.0 347.9h0M759.7 277.1h0M722.2 278.4h0M1138.2 81.8h0M968.2 139.2h0M1055.3 192.6h0M728.3 273.9h0M654.2 55.5h0M707.2 320.8h0M988.5 223.3h0M893.4 335.4h0M642.7 21.1h0M762.6 139.6h0M839.4 96.3h0M894.1 280.3h0M940.4 227.3h0M802.4 146.5h0M919.2 349.4h0M1035.5 144.1h0M874.8 251.4h0M1035.2 223.3h0M726.9 229.2h0M1108.7 253.3h0M766.6 37.2h0M949.3 186.4h0M777.8 360.2h0M726.1 155.3h0M733.6 281.1h0M1096.3 42.7h0M881.0 368.3h0M832.6 347.6h0M1016.0 322.0h0M998.6 327.7h0M724.7 128.8h0M1067.8 41.1h0M714.8 336.0h0M1062.0 319.4h0M867.7 102.6h0M993.1 297.3h0M751.0 377.0h0M640.3 57.4h0M1106.9 40.8h0M869.5 296.9h0M979.5 234.2h0M946.3 148.9h0M1120.0 80.3h0M901.0 53.6h0M827.4 49.3h0M1015.1 183.0h0M1085.7 252.6h0M801.5 59.9h0M1094.8 153.2h0M913.1 258.8h0M738.0 345.1h0M957.1 233.9h0M945.5 255.9h0M732.4 212.3h0M748.3 31.5h0M840.2 393.1h0M667.7 317.6h0M979.3 299.1h0M986.7 142.1h0M838.6 199.3h0M1014.3 71.7h0M633.7 285.9h0M1018.4 222.5h0M717.7 280.2h0M1080.5 362.6h0M754.5 367.9h0M821.2 97.2h0M939.7 69.1h0M942.0 65.6h0M707.4 18.7h0M872.6 155.0h0M1058.9 31.0h0M770.2 289.4h0M866.4 264.3h0M938.0 195.8h0M1086.5 53.3h0M908.4 297.7h0M724.6 142.2h0M1029.9 148.6h0M786.6 291.9h0M932.1 98.8h0M869.0 331.6h0M844.5 118.3h0M857.1 107.2h0M783.1 159.0h0M766.4 397.6h0M763.1 410.2h0M682.3 124.0h0M656.0 192.2h0M1021.8 39.4h0M800.7 56.5h0M1130.6 269.8h0M974.5 79.9h0M860.7 377.7h0M1031.3 209.6h0M1082.9 205.0h0M819.1 117.7h0M689.1 82.8h0M724.4 101.7h0M1127.6 50.9h0M973.1 136.9h0M824.2 288.6h0M861.9 21.9h0M882.9 269.1h0M850.9 109.5h0M881.9 91.9h0M712.1 144.3h0M697.4 101.0h0M914.8 116.4h0M827.1 298.3h0M847.6 369.9h0M956.0 145.4h0M784.3 335.6h0M839.3 75.1h0M690.3 317.3h0M909.6 252.8h0M791.0 351.8h0M725.7 159.5h0M724.0 102.3h0M969.4 123.6h0M715.2 106.1h0M965.4 129.1h0M828.9 130.3h0M633.5 16.4h0M840.6 324.2h0M848.7 86.3h0M758.4 386.2h0M1083.4 68.9h0M1106.5 268.8h0M950.8 118.1h0M787.9 278.3h0M844.9 355.4h0M909.5 153.6h0M771.1 408.8h0M658.2 278.4h0M661.9 253.9h0M862.8 381.3h0M954.4 170.4h0M1032.7 124.7h0M748.8 384.6h0M663.6 291.8h0M955.2 83.1h0M748.7 256.9h0M735.3 299.6h0M788.3 114.2h0M894.0 332.3h0M880.3 347.3h0M821.8 353.2h0M959.1 57.1h0M688.9 13.0h0M739.4 22.6h0M940.0 196.3h0M1004.2 174.6h0M987.4 282.9h0M1064.5 111.3h0M785.2 141.6h0M830.8 72.4h0M953.8 309.9h0M822.3 128.6h0M921.3 324.3h0M911.5 252.8h0M875.7 64.9h0M780.0 117.1h0M1053.0 104.6h0M895.4 68.2h0M926.2 62.6h0M897.2 173.8h0M910.3 330.3h0M653.6 262.4h0M1050.4 281.7h0M661.1 196.1h0M975.4 289.7h0M797.4 389.8h0M823.8 401.4h0M722.3 262.2h0M810.0 307.0h0M834.2 303.4h0M836.0 392.6h0M804.5 277.5h0M844.2 256.1h0M931.9 39.7h0M943.0 218.2h0M625.8 42.5h0M780.5 325.4h0M1083.9 374.4h0M775.5 361.4h0M901.4 246.4h0M902.2 54.2h0M954.8 28.7h0M841.7 278.9h0M687.0 213.1h0M978.5 24.6h0M1061.0 352.5h0M672.6 33.2h0M1067.3 179.0h0M639.5 261.1h0M809.5 227.7h0M711.5 215.0h0M795.4 336.1h0M981.2 229.3h0M1076.2 144.2h0M922.9 86.3h0M703.9 325.8h0M867.2 403.9h0M748.7 316.0h0M981.3 245.3h0M768.5 47.8h0M995.5 213.2h0M825.2 139.0h0M1006.7 83.6h0M999.4 140.9h0M1012.0 236.9h0M910.3 324.4h0M679.1 290.4h0M1005.1 389.4h0M1138.7 240.3h0M715.7 189.1h0M1149.7 203.8h0M1019.1 230.5h0M950.3 254.9h0M820.2 345.8h0M992.8 88.9h0M907.4 239.6h0M777.6 199.1h0M783.1 367.6h0M1002.2 237.8h0M855.0 299.8h0M1073.4 151.0h0M811.8 259.1h0M1096.1 312.3h0M807.7 329.1h0M832.4 177.6h0M813.9 192.8h0M976.6 68.1h0M1080.8 385.2h0M1083.2 70.0h0M719.4 314.2h0M878.1 171.7h0M979.3 222.8h0M719.2 65.9h0M1143.2 215.5h0M953.1 186.8h0M656.0 303.7h0M822.1 314.6h0M675.3 117.2h0M743.0 360.1h0M1010.5 169.8h0M1041.5 104.3h0M907.5 321.9h0M646.2 325.6h0M895.3 194.8h0M1119.1 358.0h0M863.9 36.0h0M743.2 166.6h0M818.9 301.7h0M923.9 349.2h0M764.4 94.7h0M782.5 293.5h0M749.1 183.9h0M777.1 109.5h0M885.5 155.0h0M833.0 306.9h0M783.9 155.2h0M1043.7 131.6h0M887.2 327.9h0M885.3 130.1h0M1127.0 76.1h0M1143.1 245.8h0M803.6 382.7h0M951.6 250.6h0M728.5 196.9h0M766.0 405.0h0M848.3 174.2h0M1119.0 224.0h0M739.1 98.5h0M1131.3 206.0h0M737.5 168.7h0M912.7 318.1h0M870.7 307.6h0M845.9 309.1h0M875.1 71.4h0M635.8 179.3h0M757.8 355.5h0M647.9 134.9h0M707.9 305.0h0M962.3 412.5h0M645.1 302.8h0M784.2 285.2h0M805.4 374.2h0M897.9 407.9h0M940.1 20.8h0M1142.3 261.8h0M954.3 7.1h0M816.2 395.2h0M699.2 290.8h0M939.2 84.0h0M736.1 345.2h0M742.0 344.3h0M913.5 94.0h0M834.8 299.1h0M890.1 297.1h0M804.0 278.3h0M1087.7 88.9h0M706.2 253.2h0M717.5 174.9h0M917.7 298.7h0M699.0 226.1h0M699.9 62.5h0M768.4 415.6h0M829.6 236.0h0M778.7 176.4h0M713.1 254.0h0M930.6 218.6h0M1124.8 211.1h0M1051.1 93.0h0M742.9 310.8h0M844.6 311.2h0M743.8 109.8h0M886.7 376.6h0M1052.7 142.2h0M1106.5 369.4h0M1069.6 382.9h0M816.4 56.8h0M725.1 18.7h0M837.8 206.6h0M1085.4 53.4h0M840.3 291.8h0M825.4 315.3h0M777.5 269.2h0M839.1 119.6h0M722.7 298.3h0M988.7 204.5h0M650.5 317.9h0M646.9 136.9h0M1039.7 34.2h0M827.8 285.2h0M981.9 239.9h0M633.9 293.2h0M662.0 255.6h0M947.6 177.8h0M820.9 84.0h0M772.2 263.5h0M1083.5 275.6h0M887.1 316.5h0M669.6 252.5h0M827.9 397.3h0M766.5 375.9h0M842.8 77.9h0M777.5 100.8h0M884.5 227.0h0M997.5 410.1h0M1147.4 428.3h0M929.4 70.8h0M995.1 147.9h0M745.4 318.5h0M885.0 121.6h0M820.5 16.7h0M774.6 396.4h0M796.7 288.3h0M1136.7 153.0h0M847.7 328.6h0M741.3 344.2h0M1082.8 156.1h0M711.5 263.0h0M884.5 334.6h0M1046.8 331.3h0M825.0 173.6h0M1001.2 236.2h0M792.1 342.0h0M860.0 374.0h0M733.3 238.8h0M928.9 90.1h0M802.9 349.5h0M769.3 352.3h0M728.7 284.6h0M753.0 267.7h0M853.6 19.4h0" stroke="#3fae34" stroke-width="1.6" stroke-opacity="0.38"/>
<path d="M987.6 223.9h0M785.1 240.7h0M821.2 313.7h0M746.1 279.1h0M792.1 194.8h0M1037.8 168.5h0M819.5 147.1h0M1007.0 200.6h0M1081.9 3.7h0M982.0 382.9h0M834.6 103.9h0M864.4 192.9h0M699.1 312.8h0M863.3 184.5h0M743.1 355.9h0M1070.6 14.5h0M943.9 62.5h0M878.3 257.4h0M892.3 35.1h0M804.8 358.4h0M682.5 315.1h0M810.5 362.1h0M797.8 258.3h0M807.3 196.0h0M1074.1 232.1h0M992.7 203.5h0M1029.5 247.7h0M781.5 409.3h0M875.0 205.2h0M957.6 59.8h0M949.5 309.3h0M996.7 83.1h0M789.4 92.5h0M830.9 203.4h0M766.2 336.2h0M1111.0 297.3h0M1137.7 92.3h0M1076.5 116.5h0M926.3 391.3h0M896.4 6.3h0M781.0 349.2h0M820.9 401.4h0M1094.3 373.8h0M873.8 341.0h0M750.6 230.2h0M911.1 198.1h0M951.9 308.3h0M1074.8 175.7h0M667.1 289.1h0M765.7 301.8h0M940.4 195.5h0M818.6 158.6h0M843.1 323.8h0M710.7 289.7h0M951.8 204.6h0M919.7 56.1h0M897.4 272.2h0M848.1 78.9h0M780.3 258.6h0M892.0 353.8h0M844.8 41.3h0M729.6 324.7h0M879.8 339.7h0M660.7 116.7h0M834.5 406.2h0M777.6 314.0h0M794.3 88.9h0M933.7 53.5h0M641.3 229.3h0M737.5 254.2h0M802.9 87.1h0M838.6 157.6h0M918.0 69.6h0M818.5 72.6h0M1049.0 66.7h0M996.8 258.4h0M866.4 299.3h0M731.9 297.0h0M634.2 287.6h0M803.5 79.2h0M714.3 108.0h0M800.2 141.5h0M1009.4 131.1h0M768.5 200.3h0M789.1 250.8h0M860.0 164.8h0M1109.4 278.3h0M996.1 313.8h0M988.3 235.9h0M904.5 244.5h0M732.0 305.8h0M792.4 55.6h0M692.1 234.2h0M770.2 124.1h0M687.9 213.4h0M756.9 46.1h0M770.4 298.8h0M1026.0 163.3h0M777.8 345.9h0M1067.4 36.8h0M854.2 96.4h0M915.3 100.2h0M707.6 287.4h0M1018.0 296.9h0M1072.8 28.8h0M862.1 201.6h0M883.0 247.2h0M786.2 403.2h0M1098.6 22.7h0M752.4 238.5h0M955.7 270.6h0M869.9 268.3h0M710.5 287.5h0M809.6 59.4h0M1008.0 75.4h0M786.6 272.5h0M814.6 322.3h0M674.0 274.5h0M934.1 136.9h0M805.4 82.3h0M735.0 153.3h0M927.6 98.9h0M809.8 140.8h0M857.3 276.8h0M812.3 295.9h0M758.3 369.6h0M772.6 368.0h0M890.0 7.9h0M671.0 225.7h0M884.7 373.7h0M700.7 241.7h0M846.5 172.8h0M825.6 233.1h0M649.0 298.1h0M925.2 256.6h0M803.8 17.7h0M1016.0 47.1h0M712.9 260.7h0M656.9 183.1h0M623.9 229.4h0M890.9 82.9h0M812.7 72.8h0M691.7 110.3h0M705.2 19.4h0M973.2 34.6h0M812.1 129.9h0M913.1 138.4h0M853.3 63.1h0M765.2 280.4h0M747.6 259.3h0M901.6 187.3h0M696.7 331.2h0M707.0 200.1h0M697.0 298.4h0M778.9 79.4h0M997.3 170.8h0M800.4 59.6h0M898.4 207.3h0M634.7 20.0h0M620.5 305.1h0M859.4 307.4h0M918.6 347.6h0M811.2 298.7h0M861.6 109.7h0M654.7 314.9h0M770.6 145.5h0M1031.8 141.8h0M821.7 57.0h0M844.6 388.9h0M620.0 304.0h0M871.9 167.8h0M844.7 57.0h0M665.2 264.6h0M902.0 124.6h0M888.7 143.9h0M942.8 329.6h0M722.3 205.0h0M744.4 333.0h0M737.8 119.4h0M927.4 91.1h0M855.1 35.6h0M771.1 151.8h0M711.8 305.5h0M788.6 64.6h0M700.5 99.5h0M832.2 384.0h0M997.0 219.6h0M1106.0 105.4h0M1011.2 166.8h0M808.4 396.3h0M755.8 216.3h0M854.4 34.5h0M768.2 110.5h0M670.5 218.5h0M1062.4 168.6h0M756.1 112.7h0M862.2 99.0h0M685.9 273.6h0M1021.2 252.0h0M704.3 40.8h0M745.1 53.6h0M938.3 64.6h0M983.1 140.5h0M1018.5 269.2h0M668.0 139.2h0M872.1 262.5h0M699.4 289.1h0M837.5 63.4h0M970.5 108.8h0M958.9 37.6h0M791.3 28.1h0M781.2 380.2h0M799.7 414.5h0M873.8 215.0h0M1023.3 10.5h0M1017.0 153.2h0M791.7 131.9h0M720.9 35.9h0M820.1 51.2h0M667.8 278.2h0M924.6 341.2h0M815.0 235.8h0M867.2 395.2h0M832.0 109.1h0M820.4 361.8h0M671.9 248.5h0M1013.8 262.9h0M634.7 34.5h0M835.1 358.1h0M760.7 383.7h0M811.1 231.8h0M839.3 85.1h0M1018.6 424.4h0M873.8 192.3h0M619.5 112.5h0M736.2 104.0h0M1013.4 242.4h0M959.2 214.4h0M877.4 45.8h0M766.0 307.2h0M777.5 304.4h0M979.2 402.6h0M765.9 55.6h0M843.7 117.9h0M858.0 126.3h0M798.3 228.4h0M876.3 337.5h0M1054.8 274.9h0M1026.8 323.3h0M817.9 368.4h0M709.3 253.7h0M680.1 223.3h0M954.4 376.0h0M1017.9 256.1h0M1120.0 261.6h0M1020.5 124.5h0M711.3 107.3h0M994.7 245.6h0M622.8 156.8h0M951.5 239.3h0M877.0 403.4h0M833.3 330.6h0M767.8 357.0h0M815.0 409.6h0M730.8 333.9h0M955.7 213.2h0M1128.7 310.4h0M990.3 262.2h0M746.8 380.0h0M745.5 100.3h0M922.0 178.0h0M1037.9 205.1h0M786.5 373.2h0M633.8 289.5h0M927.5 118.1h0M645.8 263.7h0M729.0 322.6h0M778.9 220.1h0M1142.2 22.6h0M827.1 270.8h0M875.5 130.7h0M961.9 85.0h0M773.8 294.5h0M779.5 84.3h0M724.1 169.4h0M761.3 271.9h0M753.0 238.8h0M908.2 336.7h0M1106.1 5.0h0M1043.0 86.8h0M804.7 290.5h0M658.8 288.4h0M926.0 344.5h0M688.4 128.5h0M791.6 100.5h0M621.4 88.1h0M626.4 189.4h0M631.7 229.9h0M782.6 118.9h0M742.7 249.3h0M759.2 67.1h0M994.2 62.2h0M668.3 251.5h0M841.6 141.9h0M1052.3 189.2h0M862.9 268.0h0M712.4 207.3h0M784.3 123.0h0M797.5 350.4h0M742.2 320.0h0M883.5 291.5h0M765.7 332.2h0M937.0 37.8h0M794.8 37.2h0M1040.9 42.6h0M1135.1 148.1h0M1103.3 101.0h0M992.4 110.6h0M961.5 167.6h0M742.0 14.5h0M788.7 384.7h0M706.8 112.3h0M699.3 125.3h0M857.1 83.9h0M780.1 350.6h0M669.5 307.5h0M751.3 66.6h0M930.4 123.1h0M685.5 208.5h0M922.0 84.0h0M854.7 300.4h0M1148.2 43.6h0M888.0 173.9h0M773.2 133.3h0M954.9 72.3h0M1032.0 396.4h0M836.8 274.6h0M963.2 110.4h0M1085.3 30.0h0M1059.8 152.0h0M1040.6 389.1h0M1071.5 73.9h0M900.7 29.0h0M842.0 366.9h0M750.9 64.0h0M801.3 293.8h0M791.5 250.3h0M855.7 360.4h0M1079.8 249.6h0M629.8 93.8h0M845.4 47.9h0M1006.6 294.8h0M781.9 118.5h0M940.9 396.1h0M952.4 227.9h0M1144.6 319.4h0M786.7 417.0h0M1076.6 64.1h0M692.9 284.6h0M930.0 201.3h0M826.5 60.2h0M785.3 315.3h0M780.5 287.1h0M618.9 163.0h0M859.2 235.5h0M788.1 372.8h0M799.4 273.9h0M761.5 241.0h0M880.1 265.2h0M887.6 382.2h0M948.5 175.0h0M725.8 287.4h0M1106.2 252.5h0M683.0 302.3h0M1000.0 42.3h0M672.8 63.5h0M760.6 360.7h0M747.4 159.3h0M776.2 310.1h0M701.2 294.5h0M776.0 283.9h0M800.5 380.0h0M793.6 52.8h0M963.8 68.1h0M798.2 175.5h0M793.5 386.2h0M655.4 296.4h0M818.1 316.6h0M973.5 353.5h0M1023.4 134.3h0M992.3 250.1h0M1124.5 192.0h0M822.9 163.9h0M951.3 300.2h0M720.9 228.5h0M918.1 255.2h0M924.1 270.0h0M1121.2 295.8h0M891.2 192.9h0M636.2 268.7h0M765.5 181.2h0M848.0 221.4h0M1050.1 363.1h0M712.1 301.3h0M877.2 250.6h0M873.1 335.2h0M916.4 145.3h0M831.4 24.4h0M657.2 264.7h0M871.1 295.6h0M795.5 114.8h0M791.5 369.8h0M959.4 227.9h0M784.9 208.2h0M814.5 358.0h0M1116.4 230.2h0M984.0 269.6h0M653.8 321.2h0M732.0 72.8h0M1033.7 376.6h0M952.0 405.4h0M928.0 282.6h0M1044.4 46.7h0M841.2 71.2h0M663.5 310.1h0M696.2 94.2h0M666.8 274.2h0M1102.1 119.4h0M895.2 346.9h0M739.1 167.1h0M730.0 256.6h0M875.9 104.1h0M706.7 290.0h0M795.4 75.7h0M808.0 116.7h0M1080.8 160.3h0M796.7 345.2h0M1026.1 74.9h0M711.5 260.1h0M858.0 338.0h0M719.7 235.1h0M652.3 125.0h0M741.1 26.5h0M730.8 11.3h0M928.3 280.7h0M805.4 413.5h0M759.8 266.1h0M1100.3 85.9h0M788.2 166.9h0M833.1 220.1h0M1146.4 195.4h0M1034.1 250.7h0M1007.3 362.9h0M834.7 150.7h0M1125.2 203.5h0M983.9 247.0h0M702.5 153.8h0M754.3 308.6h0M755.3 16.4h0M1047.6 196.8h0M728.2 237.1h0M629.7 56.8h0M718.8 346.1h0M626.1 258.0h0M940.8 121.6h0M1045.3 335.7h0M822.4 359.0h0M960.1 277.2h0M1074.8 186.4h0M899.1 288.5h0M883.9 61.2h0M1036.7 301.4h0M713.0 208.8h0M772.4 406.7h0M849.2 147.0h0M910.3 12.6h0M846.6 130.2h0M895.5 101.6h0M877.3 308.1h0M791.2 221.6h0M974.5 64.7h0M774.7 40.0h0M1036.3 161.3h0M774.1 368.6h0M914.0 131.2h0M1019.9 238.1h0M1032.5 258.4h0M646.0 290.5h0M891.8 287.5h0M874.6 139.7h0M829.6 121.1h0M662.6 313.9h0M797.3 86.5h0M936.8 312.9h0M714.1 86.8h0M1066.5 245.2h0M777.9 257.0h0M1061.5 278.5h0M857.5 266.6h0M831.9 62.1h0M798.5 299.6h0M1074.4 91.3h0M1012.8 133.8h0M671.6 70.6h0M864.9 343.9h0M900.7 244.4h0M838.3 173.4h0M1121.5 248.0h0M766.9 312.9h0M746.8 320.0h0M625.5 31.7h0M859.7 131.0h0M731.5 83.6h0M1110.9 218.5h0M715.3 137.3h0" stroke="#3fae34" stroke-width="2.0" stroke-opacity="0.38"/>
<path d="M931.8 105.3h0M929.3 251.2h0M778.3 110.2h0M1089.7 55.2h0M912.1 333.9h0M1122.4 82.2h0M995.2 352.8h0M844.5 93.1h0M651.8 20.7h0M807.8 342.1h0M659.0 146.0h0M996.2 181.4h0M781.4 85.7h0M765.6 349.5h0M797.0 50.8h0M1055.2 327.9h0M652.4 327.5h0M1055.6 44.0h0M1050.4 110.1h0M639.0 55.2h0M685.9 110.0h0M967.3 210.2h0M920.3 94.4h0M1147.3 143.8h0M1026.8 47.2h0M1043.9 76.3h0M882.6 370.5h0M737.6 181.1h0M1138.9 201.5h0M725.5 256.7h0M690.3 277.0h0M656.8 259.2h0M766.8 104.4h0M967.4 241.7h0M843.4 159.2h0M1050.6 203.0h0M1098.1 122.0h0M848.1 83.3h0M892.2 80.0h0M983.6 371.9h0M744.3 58.2h0M774.1 384.6h0M1075.6 52.4h0M652.5 61.4h0M766.2 74.1h0M855.5 368.4h0M893.8 116.4h0M643.7 6.2h0M864.9 147.1h0M826.6 281.4h0M807.8 213.4h0M786.8 340.0h0M957.4 399.3h0M843.0 313.5h0M847.7 188.8h0M967.4 42.1h0M854.0 349.4h0M811.5 331.9h0M964.2 101.2h0M1126.9 105.2h0M1130.2 398.8h0M1026.2 201.9h0M828.6 413.5h0M925.8 232.7h0M751.1 403.9h0M681.8 78.0h0M1012.9 142.8h0M915.5 229.3h0M1068.5 374.9h0M886.8 383.1h0M1016.1 255.5h0M677.3 250.9h0M746.9 154.9h0M981.7 220.2h0M917.7 118.3h0M938.7 141.2h0M950.4 125.6h0M905.9 122.2h0M942.8 261.1h0M777.1 382.6h0M1100.4 132.1h0M875.3 77.2h0M786.6 21.3h0M907.9 26.9h0M1024.6 98.4h0M1016.2 297.7h0M1074.1 54.9h0M775.7 156.5h0M975.5 87.1h0M895.1 340.5h0M868.3 110.3h0M654.5 151.0h0M723.9 358.1h0M1145.1 10.9h0M914.4 258.8h0M990.0 174.4h0M910.7 360.3h0M749.5 114.6h0M880.6 219.8h0M1004.9 208.7h0M688.9 39.4h0M1083.9 199.0h0M921.3 318.9h0M805.4 199.7h0M757.7 235.4h0M850.6 265.5h0M790.4 162.0h0M702.4 94.0h0M862.0 191.9h0M923.3 265.5h0M740.6 135.4h0M807.8 76.6h0M1074.0 222.3h0M645.1 12.8h0M893.0 253.9h0M719.6 319.2h0M744.2 266.1h0M648.3 167.2h0M873.1 157.2h0M1119.8 427.6h0M995.5 275.6h0M788.4 216.0h0M801.9 72.7h0M932.2 283.7h0M965.4 53.7h0M852.8 69.9h0M745.7 257.1h0M870.2 15.9h0M834.9 398.9h0M1043.9 370.7h0M891.2 309.1h0M1063.5 154.7h0M865.2 244.8h0M881.1 373.6h0M818.0 102.8h0M1028.4 178.2h0M897.5 215.7h0M904.8 125.9h0M888.6 136.7h0M755.0 176.7h0M1124.2 360.7h0M993.6 99.7h0M1064.3 127.3h0M891.9 299.5h0M728.4 77.1h0M727.1 90.3h0M811.5 110.7h0M870.1 87.9h0M904.1 96.0h0M846.0 147.2h0M813.0 329.3h0M1113.9 145.9h0M669.3 246.6h0M688.6 53.8h0M814.4 387.8h0M1089.3 194.2h0M796.7 367.4h0M827.5 291.8h0M859.9 376.9h0M915.1 272.8h0M665.9 121.5h0M816.9 165.3h0M1039.7 9.7h0M772.6 293.8h0M878.4 235.7h0M883.6 299.7h0M887.0 95.0h0M811.5 298.2h0M622.0 85.3h0M875.0 359.9h0M938.4 60.2h0M1039.2 183.4h0M847.7 118.6h0M740.2 208.4h0M781.4 81.7h0M986.3 41.5h0M1091.4 346.8h0M759.9 294.4h0M733.7 80.8h0M1135.1 38.5h0M791.4 402.2h0M1137.1 322.9h0M625.2 212.0h0M677.0 285.3h0M952.3 246.5h0M756.3 269.1h0M763.0 286.3h0M701.4 117.5h0M707.2 23.8h0M808.0 376.2h0M1069.1 75.7h0M803.7 165.9h0M673.1 4.6h0M661.2 263.5h0M965.4 73.8h0M699.9 318.1h0M710.3 93.8h0M713.6 82.7h0M1119.4 423.1h0M949.7 304.9h0M796.5 30.9h0M787.6 279.4h0M807.1 260.1h0M958.8 282.3h0M652.5 202.5h0M1054.2 166.2h0M743.8 350.0h0M1103.2 90.0h0M711.1 129.4h0M690.5 106.9h0M750.8 149.2h0M896.5 305.5h0M834.8 47.5h0M882.4 206.3h0M766.8 397.2h0M772.1 192.7h0M738.2 356.0h0M686.8 321.0h0M765.5 156.5h0M1061.6 92.2h0M866.5 281.1h0M748.4 211.1h0M827.7 127.6h0M1092.8 31.4h0M789.8 211.9h0M973.0 295.1h0M1050.2 141.3h0M1012.6 360.6h0M930.8 390.0h0M758.7 206.9h0M702.8 259.7h0M880.1 136.5h0M835.8 87.8h0M874.3 382.4h0M829.5 71.4h0M772.8 102.9h0M1130.0 250.2h0M1029.7 277.4h0M743.6 342.2h0M890.7 118.8h0M880.5 56.4h0M955.9 155.0h0M1064.1 164.6h0M952.2 80.4h0M759.9 349.6h0M1144.3 233.7h0M826.6 282.9h0M656.0 298.0h0M909.9 353.4h0M785.6 227.1h0M793.0 132.5h0M673.1 111.0h0M1035.5 49.9h0M759.4 349.2h0M781.8 147.1h0M806.7 188.0h0M1099.1 390.5h0M706.2 53.3h0M640.6 320.7h0M901.9 337.1h0M742.7 196.8h0M680.1 266.1h0M707.7 271.6h0M734.3 138.5h0M998.4 154.7h0M1144.6 400.5h0M795.0 265.7h0M917.6 10.0h0M1108.8 199.1h0M1100.0 393.7h0M1102.8 84.6h0M783.2 70.2h0M1028.0 99.9h0M1053.5 137.8h0M686.2 294.2h0M786.5 90.6h0M1019.3 193.4h0M791.2 119.5h0M644.0 67.3h0M897.8 409.7h0M781.8 53.3h0M993.9 296.3h0M781.5 376.1h0M826.8 64.0h0M760.7 18.3h0M769.6 369.8h0M847.9 257.7h0M888.5 177.4h0M728.2 98.4h0M841.4 117.3h0M846.8 386.4h0M778.0 117.6h0M748.5 285.0h0M675.9 273.2h0M671.7 295.0h0M856.6 232.9h0M1081.0 108.2h0M783.6 420.8h0M719.7 277.5h0M949.3 278.5h0M767.2 258.3h0M784.2 100.8h0M878.9 139.3h0M795.7 376.7h0M687.1 90.1h0M622.3 224.1h0M927.0 122.1h0M1126.4 342.4h0M819.2 367.6h0M1044.1 97.1h0M1126.7 228.3h0M823.8 49.8h0M739.4 288.1h0M1025.9 55.3h0M1112.3 253.9h0M710.4 305.9h0M993.8 369.8h0M883.2 39.1h0M765.2 68.0h0M695.7 307.9h0M837.0 337.1h0M729.4 28.9h0M1031.5 97.9h0M735.4 368.9h0M671.5 266.9h0M1058.7 45.1h0M732.9 327.0h0M817.4 139.0h0M822.7 285.1h0M876.7 277.9h0M655.2 328.8h0M819.7 386.4h0M1019.4 69.6h0M1124.7 23.1h0M726.0 107.5h0M931.9 299.0h0M962.4 205.1h0M629.9 287.5h0M1146.0 227.5h0M1140.3 1.3h0M1058.0 46.1h0M783.0 417.9h0M894.2 59.2h0M742.9 329.8h0M958.5 97.1h0M874.3 176.2h0M715.4 13.0h0M1121.1 379.8h0M909.4 214.6h0M873.2 360.9h0M902.3 64.5h0M1035.9 174.9h0M702.4 92.9h0M1020.1 127.3h0M877.9 129.8h0M1056.9 70.8h0M1051.7 185.7h0M1012.5 258.9h0M1028.1 250.1h0M756.8 272.0h0M814.6 121.3h0M1098.8 402.6h0M894.1 80.7h0M727.0 341.3h0M920.0 253.7h0M759.1 93.4h0M717.7 185.9h0M1065.5 419.0h0M927.1 151.2h0M1066.1 120.5h0M629.3 324.3h0M888.8 269.6h0M697.1 60.0h0M1015.2 238.2h0M650.2 231.9h0M742.5 328.1h0M974.1 134.4h0M688.3 264.4h0M1140.9 240.9h0M782.9 300.1h0M1035.3 155.2h0M745.1 216.3h0M633.4 251.7h0M805.1 285.1h0M728.9 166.5h0M801.4 59.5h0M943.8 249.3h0M922.4 222.1h0M828.5 352.0h0M777.9 409.1h0M754.1 35.5h0M880.4 265.2h0M690.1 207.6h0M735.0 15.9h0M845.9 399.3h0M709.3 341.2h0M804.1 418.1h0M1034.1 379.9h0M1109.4 66.0h0M827.0 406.8h0M748.2 313.4h0M675.6 64.1h0M628.3 269.3h0M815.8 309.0h0M942.0 90.6h0M738.7 208.3h0M936.1 122.3h0M738.8 267.4h0M923.4 307.2h0M923.2 227.5h0M685.0 294.0h0M1019.7 339.1h0M911.7 23.6h0M924.3 234.6h0M737.3 4.5h0M843.0 75.0h0M637.6 262.2h0M727.9 271.7h0M680.6 197.7h0M720.9 302.3h0M1145.9 350.5h0M1099.7 245.5h0M847.4 302.7h0M835.1 329.9h0M1028.3 269.5h0M822.7 371.4h0M720.7 253.3h0M715.6 164.5h0M805.0 392.7h0M669.0 293.4h0M751.9 330.7h0M918.1 142.3h0M793.2 309.8h0M1125.5 357.5h0M873.2 140.1h0M1111.5 204.9h0M753.1 391.3h0M823.3 208.0h0M838.0 9.9h0M1110.9 258.0h0M711.6 320.4h0M775.5 400.0h0M1139.2 100.6h0M912.6 265.4h0M1084.0 332.1h0M768.1 299.9h0M1047.8 245.4h0M1036.4 412.0h0M842.2 201.6h0M814.2 1.2h0M745.1 317.5h0M889.8 169.0h0M748.6 258.5h0M669.8 260.0h0M690.0 152.1h0M1143.1 86.4h0M950.6 204.6h0M1019.6 88.4h0M743.1 9.0h0M892.8 146.0h0M787.2 330.9h0M741.2 355.1h0M849.8 201.2h0M991.7 341.1h0M932.0 60.5h0M867.8 323.9h0M679.3 97.3h0M935.7 300.9h0M722.2 261.7h0M932.4 257.1h0M783.3 107.7h0M751.6 242.4h0M1133.3 245.2h0M705.6 253.2h0M1022.5 103.2h0M806.8 244.4h0M900.0 134.4h0M828.8 118.6h0M681.7 329.3h0M938.6 45.9h0M1089.3 126.2h0M1109.1 100.7h0M733.4 186.5h0M869.4 391.7h0M904.3 209.8h0M888.4 335.2h0M900.1 65.9h0M814.2 260.7h0M697.6 97.8h0" stroke="#3fae34" stroke-width="2.6" stroke-opacity="0.38"/>
</g>
<g filter="url(#roughb)" fill="none" stroke-linecap="round" stroke-linejoin="round">
<path d="M1085.6 91.7h0M1086.0 101.5h0" stroke="#4fc850" stroke-width="4.0" stroke-opacity="0.8"/>
<path d="M655.8 95.2h0M805.4 125.5h0M989.7 101.5h0M935.3 162.2h0M993.9 162.2h0M656.8 233.9h0M947.9 350.0h0M1027.4 247.5h0M1001.2 223.4h0M1101.7 410.7h0M1056.7 328.0h0" stroke="#7cc43c" stroke-width="3.0" stroke-opacity="0.55"/>
<path d="M870.3 47.1h0M800.2 82.7h0M692.4 69.1h0M1089.1 167.4h0M1129.9 148.6h0M1028.4 197.7h0M1115.3 88.9h0M807.5 341.6h0M816.9 351.1h0M851.5 391.9h0M859.8 402.3h0M824.2 412.8h0M841.0 409.6h0M855.6 407.6h0M715.4 278.9h0M711.3 265.3h0M801.2 270.5h0M830.5 312.3h0M764.6 220.3h0M719.6 299.8h0M679.9 312.3h0M974.0 333.3h0M971.9 341.6h0M1098.5 291.4h0M1121.5 295.6h0M1031.6 414.9h0M961.5 370.9h0M899.7 290.4h0" stroke="#7cc43c" stroke-width="4.0" stroke-opacity="0.55"/>
<path d="M893.5 180.0h0M815.9 363.6h0M832.6 369.9h0M809.6 396.0h0M782.4 396.0h0" stroke="#7cc43c" stroke-width="5.0" stroke-opacity="0.55"/>
<path d="M839.9 47.1h0M792.9 192.5h0M815.9 23.0h0M824.2 108.8h0M898.7 9.4h0M1102.7 109.9h0M679.9 269.5h0M706.0 284.1h0M736.4 277.8h0M755.2 352.1h0M828.4 387.7h0M880.7 274.7h0M780.3 280.5h0" stroke="#8cc03c" stroke-width="4.0" stroke-opacity="0.6"/>
<path d="M735.3 43.9h0M653.7 298.7h0" stroke="#8cc03c" stroke-width="5.0" stroke-opacity="0.6"/>
<path d="M640.1 328.7h0" stroke="#8fce3c" stroke-width="5.0" stroke-opacity="0.8"/>
<path d="M1050.4 207.2h0M622.3 328.0h0M832.6 330.1h0" stroke="#8fce3c" stroke-width="6.0" stroke-opacity="0.8"/>
<path d="M819.0 402.3h0" stroke="#8fce3c" stroke-width="8.0" stroke-opacity="0.8"/>
<path d="M811.7 345.8h0" stroke="#8fce3c" stroke-width="9.0" stroke-opacity="0.8"/>
<path d="M824.2 367.8h0" stroke="#8fce3c" stroke-width="11.0" stroke-opacity="0.8"/>
<path d="M843.1 127.2h0M707.1 241.6h0" stroke="#9cc83c" stroke-width="5.0" stroke-opacity="0.8"/>
<path d="M831.6 214.5h0M661.0 321.8h0M734.3 294.1h0M832.6 217.1h0" stroke="#9cc83c" stroke-width="6.0" stroke-opacity="0.8"/>
<path d="M705.0 271.5h0M759.4 368.8h0" stroke="#9cc83c" stroke-width="7.0" stroke-opacity="0.8"/>
<path d="M753.1 334.3h0" stroke="#a8c83c" stroke-width="6.0" stroke-opacity="0.8"/>
<path d="M831.6 153.8h0M1080.7 95.2h0M678.8 288.9h0" stroke="#a8c83c" stroke-width="7.0" stroke-opacity="0.8"/>
<path d="M813.8 399.2h0" stroke="#a8c83c" stroke-width="8.0" stroke-opacity="0.8"/>
<path d="M649.5 328.0h0" stroke="#c8d038" stroke-width="8.0" stroke-opacity="0.9"/>
<path d="M652.7 323.9h0" stroke="#c8d038" stroke-width="11.0" stroke-opacity="0.9"/>
<path d="M655.8 95.2h0M805.4 125.5h0M1001.2 223.4h0M1101.7 410.7h0M1056.7 328.0h0" stroke="#c8d83c" stroke-width="1.0" stroke-opacity="0.45"/>
<path d="M870.3 47.1h0M800.2 82.7h0M692.4 69.1h0M1089.1 167.4h0M1129.9 148.6h0M1028.4 197.7h0M989.7 101.5h0M935.3 162.2h0M993.9 162.2h0M1115.3 88.9h0M807.5 341.6h0M816.9 351.1h0M851.5 391.9h0M859.8 402.3h0M824.2 412.8h0M841.0 409.6h0M855.6 407.6h0M656.8 233.9h0M715.4 278.9h0M711.3 265.3h0M801.2 270.5h0M830.5 312.3h0M764.6 220.3h0M719.6 299.8h0M679.9 312.3h0M974.0 333.3h0M971.9 341.6h0M1098.5 291.4h0M1121.5 295.6h0M1031.6 414.9h0M961.5 370.9h0M899.7 290.4h0M947.9 350.0h0M1027.4 247.5h0" stroke="#c8d83c" stroke-width="2.0" stroke-opacity="0.45"/>
<path d="M893.5 180.0h0M815.9 363.6h0M832.6 369.9h0M809.6 396.0h0M782.4 396.0h0" stroke="#c8d83c" stroke-width="3.0" stroke-opacity="0.45"/>
<path d="M815.9 23.0h0M824.2 108.8h0" stroke="#d89a30" stroke-width="2.0" stroke-opacity="0.6"/>
<path d="M735.3 43.9h0M839.9 47.1h0M792.9 192.5h0M898.7 9.4h0M1102.7 109.9h0M679.9 269.5h0M706.0 284.1h0M736.4 277.8h0M653.7 298.7h0M755.2 352.1h0M828.4 387.7h0M880.7 274.7h0M780.3 280.5h0" stroke="#d89a30" stroke-width="3.0" stroke-opacity="0.6"/>
<path d="M640.1 328.7h0" stroke="#dcdc30" stroke-width="3.0" stroke-opacity="0.85"/>
<path d="M1050.4 207.2h0M622.3 328.0h0M832.6 330.1h0" stroke="#dcdc30" stroke-width="4.0" stroke-opacity="0.85"/>
<path d="M819.0 402.3h0" stroke="#dcdc30" stroke-width="6.0" stroke-opacity="0.85"/>
<path d="M811.7 345.8h0" stroke="#dcdc30" stroke-width="7.0" stroke-opacity="0.85"/>
<path d="M824.2 367.8h0" stroke="#dcdc30" stroke-width="8.0" stroke-opacity="0.85"/>
<path d="M843.1 127.2h0M707.1 241.6h0" stroke="#e8a830" stroke-width="3.0" stroke-opacity="0.9"/>
<path d="M831.6 214.5h0M661.0 321.8h0M734.3 294.1h0M832.6 217.1h0" stroke="#e8a830" stroke-width="4.0" stroke-opacity="0.9"/>
<path d="M705.0 271.5h0M759.4 368.8h0" stroke="#e8a830" stroke-width="5.0" stroke-opacity="0.9"/>
<path d="M831.6 153.8h0M753.1 334.3h0" stroke="#f09028" stroke-width="5.0" stroke-opacity="0.95"/>
<path d="M1080.7 95.2h0M678.8 288.9h0M813.8 399.2h0" stroke="#f09028" stroke-width="6.0" stroke-opacity="0.95"/>
<path d="M649.5 328.0h0" stroke="#ff8c1c" stroke-width="6.0" stroke-opacity="1"/>
<path d="M652.7 323.9h0" stroke="#ff8c1c" stroke-width="9.0" stroke-opacity="1"/>
<path d="M831.6 153.8h0M753.1 334.3h0" stroke="#f03c10" stroke-width="2.0" stroke-opacity="0.95"/>
<path d="M1080.7 95.2h0M678.8 288.9h0" stroke="#f03c10" stroke-width="3.0" stroke-opacity="0.95"/>
<path d="M813.8 399.2h0" stroke="#f03c10" stroke-width="4.0" stroke-opacity="0.95"/>
<path d="M649.5 328.0h0" stroke="#ff2c00" stroke-width="4.0" stroke-opacity="1"/>
<path d="M652.7 323.9h0" stroke="#ff2c00" stroke-width="7.0" stroke-opacity="1"/>
</g>
<circle cx="878.2" cy="89.8" r="18.6" fill="#073007" fill-opacity="0.5"/>
<circle cx="878.2" cy="89.8" r="18.6" fill="none" stroke="#052a05" stroke-opacity="0.35" stroke-width="1.5"/>
<circle cx="879" cy="89.5" r="3.6" fill="#e89030" fill-opacity="0.9" filter="url(#softb)"/>
<circle cx="879.5" cy="89.5" r="2.2" fill="#f03010" filter="url(#softb)"/>
<filter id="bblur" x="-5%" y="-5%" width="110%" height="110%"><feGaussianBlur stdDeviation="0.55"/></filter>
<path d="M626.8 332.5 L627.6 318.4 L628.2 297.6 L628.5 276.3 L627.1 256.3 L628.8 234.7 L628.5 219.1 L633.2 217.3 L637.9 215.5 L644.5 208.8 L646.4 198.6 L652.0 187.9 L657.0 182.4 L663.9 172.0 L667.7 160.6 L673.8 154.3 L675.7 146.4 L671.2 133.7 L667.6 123.3 L661.7 117.4 L662.0 109.1 L665.0 98.2 L666.6 87.9 L666.3 77.2 L666.8 65.3 L675.3 58.9 L681.8 50.7 L686.0 40.2 L687.2 26.9 L694.8 20.1 L703.1 14.6 L715.2 11.6 L727.6 12.7 L740.7 10.3 L747.1 7.6 L757.2 10.8 L769.7 15.9 L782.5 17.2 L791.3 21.1 L797.4 28.9 L802.5 38.0 L807.4 42.9 L813.8 44.8 L822.0 41.8 L830.0 37.6 L841.1 33.9 L849.8 31.2 L860.3 33.2 L870.6 38.4 L878.6 44.6 L885.3 48.9 L891.0 50.2 L903.7 53.4 L916.5 54.0 L927.3 52.1 L935.3 45.6 L943.2 38.4 L954.0 35.0 L967.1 31.4 L981.3 29.5 L996.4 29.1 L1008.8 30.9 L1019.1 34.8 L1029.5 38.9 L1038.0 40.3 L1049.9 40.5 L1054.3 35.3 L1062.5 29.0 L1071.4 23.4 L1079.5 20.8 L1085.9 16.9 L1089.4 15.1 L1091.1 21.1 L1094.2 29.6 L1098.3 35.9 L1104.8 40.0 L1112.2 38.5 L1107.9 43.5 L1104.3 50.2 L1104.8 58.9 L1110.6 63.9 L1119.4 67.1 L1123.9 66.6 L1127.9 70.1 L1136.3 75.1 L1143.6 81.8 L1144.3 92.6 L1143.8 103.0 L1139.1 109.8 L1129.7 114.6 L1119.0 119.0 L1112.5 123.1 L1107.1 131.6 L1100.2 142.0 L1096.6 150.7 L1093.3 161.1 L1087.8 169.5 L1084.3 177.6 L1082.0 188.1 L1075.2 196.5 L1067.8 202.4 L1067.0 211.0 L1067.7 213.6 L1066.9 222.3 L1063.1 229.1 L1057.1 233.6 L1048.4 237.4 L1041.6 242.6 L1038.8 249.9 L1037.7 258.1 L1034.7 265.9 L1031.8 275.0 L1027.4 282.9 L1022.6 289.2 L1021.5 297.6 L1022.0 301.7 L1016.5 304.8 L1011.4 309.8 L1010.7 317.5 L1006.0 323.5 L999.6 325.6 L991.7 325.4 L987.2 318.5 L981.6 314.0 L974.6 306.5 L969.0 301.6 L966.7 298.5 L966.0 306.5 L957.9 307.1 L949.6 304.9 L943.9 309.4 L935.0 316.4 L931.1 322.7 L922.9 329.4 L914.2 336.4 L905.6 343.6 L898.1 352.1 L892.5 358.5 L892.5 369.1 L889.0 381.2 L885.5 394.0 L883.5 398.8 L881.0 402.3 L874.4 404.8 L867.8 400.2 L869.0 407.4 L858.0 408.5 L845.5 410.2 L833.1 413.2 L820.2 415.6 L807.7 417.7 L792.7 419.6 L777.8 421.9 L767.4 421.5 L759.1 415.2 L750.5 404.0 L744.3 394.4 L743.0 380.9 L741.0 374.8 L731.9 366.8 L723.5 358.9 L715.3 348.0 L707.1 339.3 L698.9 334.8 L686.2 330.8 L669.7 329.3 L652.7 330.3 L635.7 332.0Z" fill="none" stroke="#021a02" stroke-width="2.7" stroke-linejoin="round" filter="url(#bblur)"/>
<path d="M1107.5 25 L1110.5 33 L1113.5 38" fill="none" stroke="#021a02" stroke-width="1.6" stroke-linecap="round"/>
<circle cx="1113.6" cy="38.6" r="2.6" fill="#021a02"/>
<text x="646.5" y="61" font-size="48" fill="#fff" text-anchor="middle" textLength="26.5" stroke="#fff" stroke-width="0.6" lengthAdjust="spacingAndGlyphs">b</text>
<text x="935.8" y="126.4" font-size="30" fill="#fff" stroke="#fff" stroke-width="0.4" text-anchor="middle" textLength="70" lengthAdjust="spacingAndGlyphs">Kano</text>
</g>
<g id="mapc" clip-path="url(#clipc)">
<defs><clipPath id="clipc"><rect x="1192.0" y="0.0" width="531.0" height="520.2"/></clipPath>
<filter id="soft" filterUnits="userSpaceOnUse" x="1185" y="-8" width="546" height="536"><feTurbulence type="fractalNoise" baseFrequency="0.22" numOctaves="2" seed="4" result="n"/><feDisplacementMap in="SourceGraphic" in2="n" scale="5" xChannelSelector="R" yChannelSelector="G"/><feGaussianBlur stdDeviation="0.8"/></filter><filter id="cblur" filterUnits="userSpaceOnUse" x="1185" y="-8" width="546" height="536"><feGaussianBlur stdDeviation="0.4"/></filter><filter id="blurc" filterUnits="userSpaceOnUse" x="1185" y="-8" width="546" height="536"><feGaussianBlur stdDeviation="0.6"/></filter></defs>
<rect x="1192.0" y="0.0" width="531.0" height="520.2" fill="#026602"/>
<g filter="url(#blurc)" fill="none" stroke-linecap="round" stroke-linejoin="round">
<path d="M1324.8 248.2h0M1580.8 305.2h0M1385.6 354.3h0M1508.1 340.0h0M1248.2 405.6h0M1524.9 256.1h0M1378.6 414.9h0M1651.8 157.6h0M1342.3 502.6h0M1438.6 307.9h0M1282.1 148.2h0M1547.9 83.1h0M1662.0 359.2h0M1308.7 345.9h0M1628.1 311.9h0M1428.4 300.9h0M1549.1 375.5h0M1621.0 332.4h0M1430.5 340.6h0M1567.6 305.2h0M1474.9 321.4h0M1621.0 145.6h0M1310.0 237.3h0M1435.4 175.0h0M1522.6 432.4h0M1511.7 430.3h0M1482.1 283.6h0M1663.3 399.7h0M1415.6 271.4h0M1601.0 336.0h0M1350.5 204.0h0M1719.2 382.0h0M1249.1 425.2h0M1517.4 172.3h0M1655.9 203.3h0M1316.9 517.4h0M1350.0 393.8h0M1539.2 343.6h0M1709.9 365.1h0M1392.0 240.5h0M1352.0 336.9h0M1561.1 387.8h0M1396.6 290.9h0M1583.6 217.3h0M1263.9 460.6h0M1561.5 278.0h0M1473.0 344.2h0M1292.7 325.5h0M1580.1 169.5h0M1470.6 211.1h0M1538.4 42.7h0M1449.8 353.4h0M1541.7 478.2h0M1399.1 229.7h0M1444.7 302.4h0M1474.3 292.1h0M1435.9 400.4h0M1377.5 267.7h0M1209.6 341.8h0M1586.6 409.7h0M1477.1 293.4h0M1441.1 319.0h0M1324.4 344.6h0M1484.7 87.9h0M1505.4 329.6h0M1487.2 359.1h0" stroke="#6ccc3c" stroke-width="1.9" stroke-opacity="0.9"/>
<path d="M1291.1 300.4h0M1358.8 260.6h0M1335.0 439.5h0M1500.9 204.1h0M1494.2 300.5h0M1233.5 385.3h0M1542.7 371.9h0M1430.6 86.0h0M1433.6 222.4h0M1408.8 287.6h0M1328.8 308.7h0M1232.0 51.8h0M1642.3 247.8h0M1395.0 333.5h0M1422.7 342.7h0M1514.5 358.0h0M1425.9 328.8h0M1343.5 305.2h0M1303.7 322.7h0M1460.7 326.8h0M1523.9 285.8h0M1347.3 372.3h0M1325.7 398.8h0M1419.4 280.5h0M1354.5 321.9h0M1451.1 461.2h0M1575.6 259.3h0M1391.5 369.4h0M1472.1 409.0h0M1482.7 297.4h0M1446.9 299.3h0M1629.6 243.9h0M1646.0 485.4h0M1452.9 336.3h0M1468.4 446.2h0M1336.9 300.1h0M1540.0 155.5h0M1301.2 455.3h0M1404.9 419.0h0M1458.2 312.5h0M1370.8 295.7h0M1459.4 299.6h0M1341.0 459.9h0M1479.9 455.7h0M1441.6 311.8h0M1270.9 33.0h0M1452.7 328.8h0M1441.5 389.0h0M1367.1 307.9h0M1426.0 464.2h0M1490.8 204.4h0M1436.1 364.7h0M1430.7 231.3h0M1622.4 244.5h0M1495.6 154.5h0M1509.5 108.2h0M1714.4 411.0h0M1381.3 265.5h0M1383.5 341.4h0M1450.7 317.1h0M1254.4 239.2h0M1622.6 289.0h0M1442.2 302.5h0M1473.1 322.7h0M1634.7 373.3h0M1517.2 390.3h0M1391.8 132.3h0M1414.6 318.1h0" stroke="#6ccc3c" stroke-width="2.3" stroke-opacity="0.9"/>
<path d="M1630.4 143.8h0M1430.0 235.2h0M1333.9 398.7h0M1504.9 196.6h0M1407.6 150.9h0M1474.4 199.2h0M1322.8 345.1h0M1464.2 390.6h0M1499.4 334.4h0M1305.1 301.0h0M1560.6 510.0h0M1568.3 328.3h0M1365.2 9.5h0M1675.7 379.4h0M1609.2 331.9h0M1467.6 391.2h0M1700.0 23.6h0M1490.1 315.3h0M1575.3 80.1h0M1217.0 122.3h0M1545.3 223.7h0M1696.3 58.8h0M1460.1 488.2h0M1384.2 384.3h0M1662.5 104.5h0M1701.5 249.3h0M1219.3 245.5h0M1396.2 168.2h0M1520.9 212.3h0M1474.1 362.7h0M1587.5 447.5h0M1639.0 135.2h0M1519.1 258.8h0M1424.5 301.3h0M1389.3 299.6h0M1476.3 325.1h0M1212.2 501.0h0M1445.1 303.5h0M1396.2 348.3h0M1440.8 210.7h0M1510.6 503.1h0M1376.0 416.7h0M1450.7 350.5h0M1472.8 348.4h0M1629.9 325.5h0M1385.0 322.8h0M1396.7 240.7h0M1702.5 485.9h0M1336.6 102.3h0M1660.0 387.0h0M1448.0 344.3h0M1539.2 31.9h0M1358.7 185.8h0M1404.8 266.1h0M1646.6 363.1h0M1383.9 284.2h0M1249.1 256.5h0M1354.3 319.0h0M1354.8 409.4h0M1351.5 325.4h0" stroke="#6ccc3c" stroke-width="2.7" stroke-opacity="0.9"/>
<path d="M1436.3 358.7h0M1440.8 321.7h0M1659.0 421.5h0M1386.1 311.4h0M1372.5 213.7h0M1501.4 287.1h0M1682.5 227.3h0M1349.4 383.2h0M1346.1 341.1h0M1696.8 158.8h0M1404.3 33.5h0M1408.0 289.4h0M1321.9 96.8h0M1440.2 231.6h0M1528.5 102.2h0M1642.2 278.2h0M1308.8 261.4h0M1428.4 136.4h0M1481.6 218.8h0M1468.5 360.2h0M1287.5 292.0h0M1548.5 309.9h0M1585.8 384.6h0M1593.5 263.3h0M1552.2 234.8h0M1499.3 285.7h0M1407.8 425.5h0M1349.8 99.0h0M1261.6 310.5h0M1448.3 360.6h0M1487.8 246.2h0M1452.0 365.3h0M1377.9 171.4h0M1610.1 339.4h0M1425.5 328.4h0M1318.4 360.5h0M1543.9 315.4h0M1651.8 99.1h0M1524.1 353.6h0M1333.2 423.7h0M1406.8 493.1h0M1613.7 192.6h0M1404.1 145.8h0M1484.4 312.7h0M1232.6 362.4h0M1295.1 158.1h0M1509.4 321.3h0" stroke="#6ccc3c" stroke-width="3.3" stroke-opacity="0.9"/>
<path d="M1528.4 120.0h0M1534.7 352.3h0M1403.5 254.2h0M1296.4 365.0h0M1491.7 199.4h0M1498.4 203.9h0M1504.2 276.7h0M1382.4 256.0h0M1469.9 374.2h0M1661.6 182.6h0M1435.1 307.8h0M1266.9 37.9h0M1222.5 484.9h0M1584.2 59.4h0M1366.1 508.5h0M1574.1 324.9h0M1627.2 323.4h0M1435.3 324.3h0M1544.1 391.2h0M1263.7 482.7h0M1323.1 2.0h0M1346.2 433.8h0M1587.1 334.7h0M1491.2 263.5h0M1426.6 151.1h0M1320.7 273.3h0M1490.5 224.6h0M1422.2 275.5h0M1584.9 453.9h0M1538.9 154.5h0M1427.1 328.6h0M1602.0 6.6h0M1462.1 192.2h0M1438.2 345.0h0M1429.1 187.8h0M1484.9 327.4h0M1479.0 222.4h0M1308.3 451.1h0M1582.5 181.2h0M1716.6 198.9h0M1348.0 314.9h0M1522.4 314.4h0M1585.0 132.2h0M1517.7 237.9h0M1598.0 141.9h0M1384.6 368.2h0M1614.4 314.9h0M1547.0 453.2h0M1540.0 120.2h0M1421.2 309.7h0M1555.2 285.7h0M1495.6 13.1h0M1470.4 155.0h0M1534.2 305.3h0M1475.9 374.8h0M1508.5 283.0h0M1375.2 123.6h0M1637.1 516.0h0M1420.5 277.4h0M1330.5 259.1h0M1511.7 282.5h0M1472.4 140.5h0M1456.9 145.9h0M1372.7 309.9h0M1563.1 449.0h0M1332.4 169.9h0M1401.7 395.0h0" stroke="#b4e038" stroke-width="1.9" stroke-opacity="0.9"/>
<path d="M1464.5 394.8h0M1472.0 507.7h0M1410.1 264.8h0M1413.6 489.2h0M1537.0 319.2h0M1345.9 292.0h0M1361.2 237.6h0M1217.4 252.7h0M1553.0 274.5h0M1493.7 439.7h0M1248.5 309.3h0M1628.6 323.1h0M1437.4 321.9h0M1649.2 504.5h0M1400.6 237.1h0M1244.8 348.4h0M1348.1 279.1h0M1436.3 220.7h0M1456.5 24.3h0M1304.2 456.3h0M1411.2 194.3h0M1295.5 412.3h0M1404.9 328.6h0M1446.8 229.4h0M1421.1 316.4h0M1320.2 186.9h0M1608.9 286.8h0M1525.0 299.0h0M1598.3 204.9h0M1567.4 318.0h0M1336.5 117.3h0M1315.4 426.0h0M1601.7 174.1h0M1488.5 514.1h0M1456.5 344.3h0M1279.0 159.1h0M1398.9 168.8h0M1720.4 496.1h0M1495.5 295.7h0M1399.6 302.6h0M1702.0 57.8h0M1630.6 390.3h0M1380.3 433.8h0M1417.4 487.2h0M1491.2 255.6h0M1217.4 295.8h0M1252.7 485.3h0M1545.9 331.1h0M1507.8 182.7h0M1483.8 372.1h0M1350.7 300.7h0M1598.4 366.4h0M1489.2 25.0h0M1426.4 181.7h0M1473.1 289.1h0M1486.1 484.7h0M1565.8 283.0h0M1424.8 237.1h0M1434.0 308.9h0M1406.8 110.7h0M1457.9 186.8h0M1343.3 406.6h0M1516.1 273.6h0M1525.6 161.5h0M1397.4 385.2h0M1386.4 388.2h0M1480.0 131.8h0M1487.0 122.0h0M1466.9 311.6h0M1401.8 63.4h0M1611.0 320.8h0M1226.9 511.9h0" stroke="#b4e038" stroke-width="2.3" stroke-opacity="0.9"/>
<path d="M1541.0 86.1h0M1534.8 326.4h0M1492.7 227.8h0M1465.2 325.7h0M1549.1 296.7h0M1295.6 159.8h0M1485.1 351.9h0M1492.4 350.6h0M1381.6 344.3h0M1692.2 297.8h0M1634.0 264.6h0M1378.5 475.2h0M1404.8 477.2h0M1365.0 253.0h0M1493.1 333.5h0M1307.7 263.9h0M1368.2 138.0h0M1556.5 229.0h0M1308.5 463.5h0M1409.1 263.8h0M1392.0 375.1h0M1563.3 182.4h0M1369.0 461.3h0M1620.9 178.5h0M1568.6 353.1h0M1465.8 211.4h0M1394.9 357.0h0M1486.0 102.8h0M1718.2 383.2h0M1565.6 199.4h0M1655.3 227.3h0M1459.5 231.3h0M1587.1 184.3h0M1444.2 451.2h0M1374.3 254.1h0M1506.7 225.5h0M1424.0 211.1h0M1568.1 209.9h0M1501.3 60.2h0M1456.0 203.2h0M1354.1 398.7h0M1416.2 84.7h0M1439.0 295.0h0M1291.1 76.4h0M1314.9 482.5h0M1470.5 168.7h0M1500.3 392.9h0M1518.9 174.6h0M1329.8 450.1h0M1307.2 120.4h0M1576.8 497.5h0M1665.5 8.7h0M1222.8 479.3h0M1663.4 366.4h0M1371.5 239.9h0M1470.3 341.9h0M1314.7 362.4h0M1408.1 91.5h0M1624.0 346.5h0M1534.7 154.3h0M1195.4 497.3h0M1582.7 360.7h0M1391.8 432.9h0" stroke="#b4e038" stroke-width="2.7" stroke-opacity="0.9"/>
<path d="M1571.6 106.9h0M1524.8 286.2h0M1408.5 123.7h0M1535.4 298.9h0M1547.9 240.9h0M1341.5 134.4h0M1404.4 358.0h0M1376.9 304.0h0M1684.4 14.6h0M1463.5 322.6h0M1684.0 91.2h0M1553.8 315.6h0M1572.5 328.5h0M1509.3 366.6h0M1716.4 287.7h0M1239.9 302.0h0M1594.9 293.3h0M1478.2 330.4h0M1482.9 303.5h0M1434.6 133.3h0M1439.6 354.9h0M1464.1 296.3h0M1632.8 413.3h0M1398.6 376.5h0M1452.4 395.1h0M1499.9 303.2h0M1434.6 397.5h0M1551.6 390.4h0M1328.3 253.2h0M1336.0 358.0h0M1493.6 394.3h0M1594.0 401.1h0M1243.8 483.6h0M1343.9 503.7h0M1492.1 398.6h0M1659.0 200.2h0M1432.7 329.4h0M1539.8 273.7h0M1208.6 340.5h0M1633.6 24.6h0M1629.4 187.5h0M1368.4 349.8h0M1485.9 245.9h0M1536.3 458.9h0M1532.0 346.7h0M1363.9 190.2h0M1415.8 290.3h0M1478.8 473.9h0M1626.8 343.5h0M1681.0 432.9h0M1448.0 297.5h0M1395.0 330.2h0M1402.1 284.3h0M1284.0 332.1h0M1601.1 313.9h0M1499.1 247.2h0M1269.1 361.4h0M1583.1 395.6h0M1476.1 290.5h0M1498.1 412.3h0M1512.6 237.8h0M1508.2 281.1h0M1715.1 78.2h0M1422.4 375.2h0M1485.2 338.9h0M1491.7 268.9h0M1300.4 339.3h0M1434.6 208.3h0M1485.2 332.5h0M1674.6 388.9h0M1463.2 171.4h0M1417.0 228.5h0M1393.0 455.6h0M1511.2 120.9h0M1453.8 334.8h0M1427.4 247.7h0" stroke="#b4e038" stroke-width="3.3" stroke-opacity="0.9"/>
<path d="M1548.7 377.2h0M1244.6 466.0h0M1552.1 361.1h0M1289.7 404.9h0M1703.3 336.4h0M1345.2 343.3h0M1429.9 85.1h0M1546.3 313.8h0M1424.3 112.1h0M1524.0 300.8h0M1246.3 360.4h0M1581.6 207.1h0M1301.5 195.8h0M1482.4 285.8h0M1512.5 23.1h0M1556.8 306.6h0M1488.0 227.3h0M1346.8 152.5h0M1447.1 292.8h0M1422.1 131.5h0M1430.4 307.4h0M1622.9 426.5h0M1459.8 337.9h0M1405.6 474.3h0M1503.8 324.7h0M1484.3 171.8h0M1390.0 218.7h0M1419.6 259.8h0M1586.2 432.7h0M1626.7 211.6h0M1628.8 135.5h0M1341.6 109.1h0M1200.1 452.1h0M1530.6 300.6h0M1510.5 311.8h0M1623.3 408.9h0M1460.6 303.3h0M1523.1 290.2h0M1580.3 408.1h0M1666.3 157.7h0M1536.9 400.4h0M1276.3 339.4h0M1524.9 484.8h0M1521.5 284.5h0M1647.8 493.1h0M1343.9 298.9h0M1643.8 362.7h0M1618.5 158.1h0M1548.5 174.9h0" stroke="#e4e82a" stroke-width="1.9" stroke-opacity="0.9"/>
<path d="M1430.0 294.1h0M1556.4 104.0h0M1374.7 431.8h0M1532.4 254.4h0M1642.3 244.4h0M1452.0 385.0h0M1517.8 161.1h0M1404.6 492.4h0M1690.0 153.0h0M1435.7 159.5h0M1375.9 170.5h0M1326.2 145.6h0M1705.2 383.6h0M1690.5 38.8h0M1706.3 309.1h0M1685.1 403.8h0M1697.5 64.4h0M1569.2 239.1h0M1462.8 169.6h0M1481.5 168.3h0M1551.0 445.0h0M1300.5 163.5h0M1244.4 132.2h0M1479.4 369.9h0M1418.1 476.5h0M1689.3 377.3h0M1494.9 279.8h0M1556.9 308.7h0M1415.4 6.7h0M1314.7 269.8h0M1429.1 272.5h0M1464.4 314.1h0M1425.0 321.1h0M1549.3 397.7h0M1468.2 373.3h0M1326.0 415.1h0M1227.3 273.8h0M1616.9 314.8h0" stroke="#e4e82a" stroke-width="2.3" stroke-opacity="0.9"/>
<path d="M1380.2 307.4h0M1632.1 8.3h0M1686.5 66.6h0M1478.7 295.9h0M1355.6 407.1h0M1448.4 121.1h0M1420.3 309.4h0M1570.7 227.7h0M1454.3 296.1h0M1330.6 195.7h0M1432.8 133.1h0M1447.5 340.0h0M1354.5 355.6h0M1490.9 220.9h0M1519.6 247.7h0M1395.9 243.1h0M1637.4 390.2h0M1348.8 110.8h0M1580.7 223.4h0M1400.8 321.0h0M1376.7 111.4h0M1524.0 249.3h0M1503.5 249.5h0M1601.5 495.1h0M1458.1 446.8h0M1416.0 376.2h0M1544.7 295.2h0M1407.7 302.0h0M1578.4 306.9h0M1641.9 391.0h0M1437.9 207.8h0M1381.5 383.4h0M1461.5 347.0h0M1394.0 282.4h0M1430.1 364.1h0M1541.3 307.9h0M1524.5 209.7h0M1395.1 485.7h0M1269.7 344.3h0M1499.9 263.1h0M1542.7 238.2h0M1523.9 330.4h0M1408.6 466.7h0M1545.3 309.6h0M1374.8 104.9h0M1320.4 449.7h0M1437.7 400.3h0M1291.6 437.2h0M1351.3 441.6h0M1667.3 133.4h0M1494.0 187.0h0" stroke="#e4e82a" stroke-width="2.7" stroke-opacity="0.9"/>
<path d="M1377.4 437.2h0M1447.5 212.4h0M1259.2 292.3h0M1479.9 127.2h0M1530.3 238.0h0M1355.1 498.2h0M1455.3 104.4h0M1559.7 242.8h0M1496.5 490.5h0M1671.3 241.2h0M1559.8 231.2h0M1351.0 403.2h0M1449.6 337.1h0M1494.1 293.1h0M1665.4 280.2h0M1462.5 304.5h0M1314.8 424.6h0M1377.4 136.6h0M1225.8 202.9h0M1464.5 223.2h0M1714.7 377.0h0M1505.8 301.8h0M1448.4 323.1h0M1631.6 293.6h0M1440.2 343.8h0M1405.7 176.7h0M1429.9 242.6h0M1458.6 330.6h0M1351.2 469.2h0M1640.7 367.7h0M1434.3 238.6h0M1433.8 339.3h0M1327.7 246.8h0M1445.9 433.9h0M1202.9 335.8h0M1478.5 176.9h0M1506.8 291.1h0M1442.4 228.5h0M1373.8 238.5h0M1543.8 207.4h0M1603.9 427.9h0M1534.3 184.6h0M1354.9 345.7h0" stroke="#e4e82a" stroke-width="3.3" stroke-opacity="0.9"/>
</g>
<g filter="url(#soft)" fill="none" stroke-linecap="round" stroke-linejoin="round">
<path d="M1401.2 206.1 L1388.6 192.3 L1377.3 179.7 L1369.7 173.5 L1358.4 165.9 L1337.1 152.1 L1324.5 145.3 L1310.7 135.7 L1296.8 126.9 L1283.0 116.9 L1270.4 108.1 L1260.4 95.5 L1252.8 83.0 L1244.0 67.9 L1244.8 52.8 L1245.8 37.7 L1244.0 21.4" stroke="#9fd63a" stroke-width="3.8" stroke-dasharray="1.3 6.3 1.8 6.6 2.7 3.4 0.5 8.0" stroke-opacity="0.9"/>
<path d="M1401.2 206.1 L1388.6 192.3 L1377.3 179.7 L1369.7 173.5 L1358.4 165.9 L1337.1 152.1 L1324.5 145.3 L1310.7 135.7 L1296.8 126.9 L1283.0 116.9 L1270.4 108.1 L1260.4 95.5 L1252.8 83.0 L1244.0 67.9 L1244.8 52.8 L1245.8 37.7 L1244.0 21.4" stroke="#e2e42c" stroke-width="2.4" stroke-dasharray="1.3 6.3 1.8 6.6 2.7 3.4 0.5 8.0" stroke-opacity="0.9"/>
<path d="M1254.1 130.7 L1250.3 140.8 L1249.1 150.8 L1244.0 160.9 L1236.5 168.9 L1227.7 163.4 L1220.2 158.4 L1211.4 155.9 L1210.1 149.6 L1222.7 153.3 L1232.7 152.1 L1240.3 148.3 L1247.8 140.8" stroke="#9fd63a" stroke-width="3.8" stroke-dasharray="1.4 4.4 4.0 5.8 3.4 5.9 2.7 3.9" stroke-opacity="0.9"/>
<path d="M1254.1 130.7 L1250.3 140.8 L1249.1 150.8 L1244.0 160.9 L1236.5 168.9 L1227.7 163.4 L1220.2 158.4 L1211.4 155.9 L1210.1 149.6 L1222.7 153.3 L1232.7 152.1 L1240.3 148.3 L1247.8 140.8" stroke="#e2e42c" stroke-width="2.4" stroke-dasharray="1.4 4.4 4.0 5.8 3.4 5.9 2.7 3.9" stroke-opacity="0.9"/>
<path d="M1202.6 73.4 L1221.4 66.6 L1232.7 60.3 L1244.0 67.9" stroke="#9fd63a" stroke-width="3.2" stroke-dasharray="2.7 8.2 2.3 7.4 2.8 3.4 3.2 6.5" stroke-opacity="0.9"/>
<path d="M1202.6 73.4 L1221.4 66.6 L1232.7 60.3 L1244.0 67.9" stroke="#e2e42c" stroke-width="1.8" stroke-dasharray="2.7 8.2 2.3 7.4 2.8 3.4 3.2 6.5" stroke-opacity="0.9"/>
<path d="M1299.4 61.6 L1305.6 54.0 L1311.9 47.8 L1318.2 42.7" stroke="#9fd63a" stroke-width="3.2" stroke-dasharray="1.6 3.2 3.5 5.8 3.0 8.3 3.0 8.5" stroke-opacity="0.9"/>
<path d="M1299.4 61.6 L1305.6 54.0 L1311.9 47.8 L1318.2 42.7" stroke="#e2e42c" stroke-width="1.8" stroke-dasharray="1.6 3.2 3.5 5.8 3.0 8.3 3.0 8.5" stroke-opacity="0.9"/>
<path d="M1454.0 196.1 L1454.0 150.8 L1457.7 133.2 L1457.7 109.4 L1454.0 72.9 L1452.7 50.3 L1451.4 13.8" stroke="#9fd63a" stroke-width="3.2" stroke-dasharray="1.9 7.8 2.1 8.6 3.6 3.6 1.0 4.3" stroke-opacity="0.9"/>
<path d="M1454.0 196.1 L1454.0 150.8 L1457.7 133.2 L1457.7 109.4 L1454.0 72.9 L1452.7 50.3 L1451.4 13.8" stroke="#e2e42c" stroke-width="1.8" stroke-dasharray="1.9 7.8 2.1 8.6 3.6 3.6 1.0 4.3" stroke-opacity="0.9"/>
<path d="M1498.2 241.3 L1510.8 245.1 L1520.9 242.6 L1536.0 243.8 L1554.8 243.8 L1563.6 242.6 L1569.9 235.0 L1576.2 223.7 L1581.2 220.0 L1585.0 201.1 L1592.5 199.8 L1605.1 193.6 L1613.9 185.5 L1621.4 183.0 L1630.2 179.0 L1637.8 176.0 L1644.1 172.2 L1664.2 167.9 L1674.2 158.4 L1673.0 144.5 L1689.3 138.3 L1695.6 125.7" stroke="#9fd63a" stroke-width="3.8" stroke-dasharray="3.9 5.6 2.7 4.8 2.3 5.3 1.7 6.5" stroke-opacity="0.9"/>
<path d="M1498.2 241.3 L1510.8 245.1 L1520.9 242.6 L1536.0 243.8 L1554.8 243.8 L1563.6 242.6 L1569.9 235.0 L1576.2 223.7 L1581.2 220.0 L1585.0 201.1 L1592.5 199.8 L1605.1 193.6 L1613.9 185.5 L1621.4 183.0 L1630.2 179.0 L1637.8 176.0 L1644.1 172.2 L1664.2 167.9 L1674.2 158.4 L1673.0 144.5 L1689.3 138.3 L1695.6 125.7" stroke="#e2e42c" stroke-width="2.4" stroke-dasharray="3.9 5.6 2.7 4.8 2.3 5.3 1.7 6.5" stroke-opacity="0.9"/>
<path d="M1530.9 159.6 L1541.0 167.2 L1547.3 170.9 L1553.6 179.7" stroke="#9fd63a" stroke-width="3.2" stroke-dasharray="2.5 8.4 2.9 8.6 3.5 8.9 2.8 4.0" stroke-opacity="0.9"/>
<path d="M1530.9 159.6 L1541.0 167.2 L1547.3 170.9 L1553.6 179.7" stroke="#e2e42c" stroke-width="1.8" stroke-dasharray="2.5 8.4 2.9 8.6 3.5 8.9 2.8 4.0" stroke-opacity="0.9"/>
<path d="M1485.7 125.2 L1495.7 120.2 L1504.5 114.4" stroke="#9fd63a" stroke-width="3.2" stroke-dasharray="3.5 8.8 3.7 6.4 3.0 4.3 3.4 6.4" stroke-opacity="0.9"/>
<path d="M1485.7 125.2 L1495.7 120.2 L1504.5 114.4" stroke="#e2e42c" stroke-width="1.8" stroke-dasharray="3.5 8.8 3.7 6.4 3.0 4.3 3.4 6.4" stroke-opacity="0.9"/>
<path d="M1666.7 86.7 L1674.2 84.2 L1680.5 80.4" stroke="#9fd63a" stroke-width="3.2" stroke-dasharray="1.5 3.4 3.5 8.9 0.8 7.8 1.9 3.9" stroke-opacity="0.9"/>
<path d="M1666.7 86.7 L1674.2 84.2 L1680.5 80.4" stroke="#e2e42c" stroke-width="1.8" stroke-dasharray="1.5 3.4 3.5 8.9 0.8 7.8 1.9 3.9" stroke-opacity="0.9"/>
<path d="M1654.1 194.8 L1660.4 194.8 L1664.2 198.6 L1670.4 208.1" stroke="#9fd63a" stroke-width="3.2" stroke-dasharray="1.5 7.6 3.6 3.3 2.7 3.3 3.0 5.0" stroke-opacity="0.9"/>
<path d="M1654.1 194.8 L1660.4 194.8 L1664.2 198.6 L1670.4 208.1" stroke="#e2e42c" stroke-width="1.8" stroke-dasharray="1.5 7.6 3.6 3.3 2.7 3.3 3.0 5.0" stroke-opacity="0.9"/>
<path d="M1629.0 223.7 L1634.0 223.7 L1640.3 225.0 L1645.3 222.5" stroke="#9fd63a" stroke-width="3.2" stroke-dasharray="3.6 8.9 2.3 9.0 1.6 3.5 2.6 3.2" stroke-opacity="0.9"/>
<path d="M1629.0 223.7 L1634.0 223.7 L1640.3 225.0 L1645.3 222.5" stroke="#e2e42c" stroke-width="1.8" stroke-dasharray="3.6 8.9 2.3 9.0 1.6 3.5 2.6 3.2" stroke-opacity="0.9"/>
<path d="M1503.3 286.7 L1515.8 296.7 L1524.6 305.5 L1533.4 316.8 L1542.7 324.9 L1555.6 333.9 L1563.6 344.5 L1572.4 353.3 L1583.7 355.8 L1593.8 358.3 L1603.8 359.6 L1611.4 358.3 L1620.2 362.1 L1634.0 369.6 L1646.6 367.1 L1654.1 365.8 L1661.6 362.1 L1669.2 359.6 L1676.7 352.0 L1684.3 347.0" stroke="#9fd63a" stroke-width="3.8" stroke-dasharray="1.2 5.4 2.6 3.9 0.6 8.2 1.6 8.8" stroke-opacity="0.9"/>
<path d="M1503.3 286.7 L1515.8 296.7 L1524.6 305.5 L1533.4 316.8 L1542.7 324.9 L1555.6 333.9 L1563.6 344.5 L1572.4 353.3 L1583.7 355.8 L1593.8 358.3 L1603.8 359.6 L1611.4 358.3 L1620.2 362.1 L1634.0 369.6 L1646.6 367.1 L1654.1 365.8 L1661.6 362.1 L1669.2 359.6 L1676.7 352.0 L1684.3 347.0" stroke="#e2e42c" stroke-width="2.4" stroke-dasharray="1.2 5.4 2.6 3.9 0.6 8.2 1.6 8.8" stroke-opacity="0.9"/>
<path d="M1468.1 339.4 L1480.7 347.0 L1496.2 350.0 L1510.8 368.4 L1523.9 375.1 L1538.5 397.3 L1547.3 417.4 L1556.6 430.4" stroke="#9fd63a" stroke-width="3.2" stroke-dasharray="3.6 5.3 2.1 6.1 2.8 6.6 2.5 6.7" stroke-opacity="0.9"/>
<path d="M1468.1 339.4 L1480.7 347.0 L1496.2 350.0 L1510.8 368.4 L1523.9 375.1 L1538.5 397.3 L1547.3 417.4 L1556.6 430.4" stroke="#e2e42c" stroke-width="1.8" stroke-dasharray="3.6 5.3 2.1 6.1 2.8 6.6 2.5 6.7" stroke-opacity="0.9"/>
<path d="M1478.1 334.4 L1473.1 359.6 L1468.1 384.7 L1465.1 426.9 L1468.1 446.3 L1470.6 460.1 L1478.1 485.2 L1485.7 506.6" stroke="#9fd63a" stroke-width="3.2" stroke-dasharray="3.8 6.0 2.0 7.3 1.3 4.8 3.9 6.1" stroke-opacity="0.45"/>
<path d="M1478.1 334.4 L1473.1 359.6 L1468.1 384.7 L1465.1 426.9 L1468.1 446.3 L1470.6 460.1 L1478.1 485.2 L1485.7 506.6" stroke="#e2e42c" stroke-width="1.8" stroke-dasharray="3.8 6.0 2.0 7.3 1.3 4.8 3.9 6.1" stroke-opacity="0.45"/>
<path d="M1499.5 460.1 L1507.0 470.2 L1515.8 467.6 L1525.9 460.1" stroke="#9fd63a" stroke-width="3.2" stroke-dasharray="2.4 3.1 2.0 6.5 0.6 6.7 2.7 3.4" stroke-opacity="0.9"/>
<path d="M1499.5 460.1 L1507.0 470.2 L1515.8 467.6 L1525.9 460.1" stroke="#e2e42c" stroke-width="1.8" stroke-dasharray="2.4 3.1 2.0 6.5 0.6 6.7 2.7 3.4" stroke-opacity="0.9"/>
<path d="M1431.3 329.4 L1421.3 347.0 L1411.2 355.8 L1406.2 374.6 L1399.9 387.2 L1397.4 399.8 L1396.1 414.9 L1393.6 427.4 L1394.9 445.0 L1388.6 462.6 L1378.5 472.7 L1371.0 480.2 L1366.0 487.8" stroke="#9fd63a" stroke-width="3.8" stroke-dasharray="2.7 5.8 2.9 5.1 3.0 7.4 0.6 3.4" stroke-opacity="0.9"/>
<path d="M1431.3 329.4 L1421.3 347.0 L1411.2 355.8 L1406.2 374.6 L1399.9 387.2 L1397.4 399.8 L1396.1 414.9 L1393.6 427.4 L1394.9 445.0 L1388.6 462.6 L1378.5 472.7 L1371.0 480.2 L1366.0 487.8" stroke="#e2e42c" stroke-width="2.4" stroke-dasharray="2.7 5.8 2.9 5.1 3.0 7.4 0.6 3.4" stroke-opacity="0.9"/>
<path d="M1441.4 342.0 L1438.9 359.6 L1441.4 384.7 L1438.9 403.5 L1446.4 435.0 L1452.7 465.1 L1448.9 500.3" stroke="#9fd63a" stroke-width="3.2" stroke-dasharray="2.9 8.8 1.4 5.7 2.6 4.9 1.8 4.9" stroke-opacity="0.45"/>
<path d="M1441.4 342.0 L1438.9 359.6 L1441.4 384.7 L1438.9 403.5 L1446.4 435.0 L1452.7 465.1 L1448.9 500.3" stroke="#e2e42c" stroke-width="1.8" stroke-dasharray="2.9 8.8 1.4 5.7 2.6 4.9 1.8 4.9" stroke-opacity="0.45"/>
<path d="M1416.2 291.7 L1398.6 304.2 L1383.6 319.3 L1366.0 334.4 L1343.3 360.1 L1323.2 384.7 L1308.1 409.8 L1290.6 429.9 L1267.9 453.1 L1252.8 472.7" stroke="#9fd63a" stroke-width="3.2" stroke-dasharray="1.8 6.6 1.6 5.3 3.2 3.2 2.5 7.4" stroke-opacity="0.45"/>
<path d="M1416.2 291.7 L1398.6 304.2 L1383.6 319.3 L1366.0 334.4 L1343.3 360.1 L1323.2 384.7 L1308.1 409.8 L1290.6 429.9 L1267.9 453.1 L1252.8 472.7" stroke="#e2e42c" stroke-width="1.8" stroke-dasharray="1.8 6.6 1.6 5.3 3.2 3.2 2.5 7.4" stroke-opacity="0.45"/>
<path d="M1195.0 409.8 L1205.1 402.3 L1215.1 389.7 L1227.7 385.9" stroke="#9fd63a" stroke-width="3.2" stroke-dasharray="1.6 5.0 3.4 5.6 3.5 4.0 1.7 6.9" stroke-opacity="0.9"/>
<path d="M1195.0 409.8 L1205.1 402.3 L1215.1 389.7 L1227.7 385.9" stroke="#e2e42c" stroke-width="1.8" stroke-dasharray="1.6 5.0 3.4 5.6 3.5 4.0 1.7 6.9" stroke-opacity="0.9"/>
<path d="M1360.9 435.0 L1368.5 437.0 L1363.5 443.8 L1350.9 440.0" stroke="#9fd63a" stroke-width="3.2" stroke-dasharray="3.6 5.7 1.3 3.7 2.4 4.1 3.3 8.0" stroke-opacity="0.9"/>
<path d="M1360.9 435.0 L1368.5 437.0 L1363.5 443.8 L1350.9 440.0" stroke="#e2e42c" stroke-width="1.8" stroke-dasharray="3.6 5.7 1.3 3.7 2.4 4.1 3.3 8.0" stroke-opacity="0.9"/>
<path d="M1221.4 100.1h0M1203.8 47.8h0M1229.0 11.3h0M1265.4 57.8h0M1350.9 77.9h0M1411.2 89.2h0M1340.8 142.0h0M1318.2 139.5h0M1428.8 165.9h0M1399.9 226.2h0M1381.1 226.2h0M1366.0 213.7h0M1515.8 25.1h0M1515.8 40.2h0M1670.4 5.0h0M1719.5 27.7h0M1579.9 173.5h0M1590.0 152.1h0M1684.3 432.5h0M1608.9 495.3h0" stroke="#6fce44" stroke-width="3.0"/>
<path d="M1276.7 179.7h0M1256.6 186.0h0M1573.7 55.8h0M1475.6 130.7h0M1475.6 137.8h0M1513.3 150.3h0M1508.8 167.9h0M1567.4 188.5h0M1626.5 120.2h0M1618.9 109.4h0M1680.5 80.4h0M1717.0 115.6h0M1710.7 106.8h0M1613.1 233.3h0M1556.1 227.5h0M1683.0 165.9h0M1308.7 303.7h0M1290.1 311.3h0M1241.5 495.3h0M1267.9 491.5h0M1278.0 369.6h0M1230.2 354.5h0M1536.0 355.8h0M1490.7 426.2h0M1639.0 394.7h0M1634.0 404.8h0M1629.0 304.2h0M1632.7 460.1h0M1719.5 475.2h0M1397.8 239.6h0M1405.5 244.4h0M1381.5 225.2h0M1398.8 227.2h0" stroke="#6fce44" stroke-width="4.0"/>
<path d="M1595.0 300.5h0" stroke="#6fce44" stroke-width="5.0"/>
<path d="M1200.1 32.7h0M1278.0 169.7h0M1441.4 148.3h0M1355.9 233.8h0M1486.9 16.3h0M1459.3 149.6h0M1541.0 226.2h0M1561.1 214.9h0M1205.1 402.3h0M1227.7 385.9h0M1468.1 446.3h0M1470.6 460.1h0M1708.2 319.3h0M1603.8 480.2h0M1659.1 482.7h0M1699.4 480.2h0" stroke="#8cd23a" stroke-width="5.0"/>
<path d="M1232.7 60.3h0M1377.3 108.1h0M1417.5 44.7h0M1420.0 155.4h0M1254.1 216.7h0M1201.3 189.0h0M1197.5 172.2h0M1338.3 242.6h0M1340.8 10.1h0M1328.3 3.8h0M1260.4 95.5h0M1276.7 110.6h0M1285.0 117.6h0M1254.1 130.7h0M1250.3 140.8h0M1249.1 150.8h0M1244.0 160.9h0M1227.7 163.4h0M1220.2 158.4h0M1211.4 155.9h0M1210.1 149.6h0M1222.7 153.3h0M1232.7 152.1h0M1240.3 148.3h0M1246.6 105.6h0M1350.9 187.3h0M1548.5 90.0h0M1485.7 125.2h0M1504.5 114.4h0M1547.3 176.0h0M1553.6 179.7h0M1605.1 201.1h0M1606.3 189.8h0M1613.9 185.5h0M1637.8 176.0h0M1644.1 172.2h0M1673.0 144.5h0M1689.3 138.3h0M1695.6 125.7h0M1646.6 128.7h0M1666.7 86.7h0M1674.2 84.2h0M1713.2 188.0h0M1593.8 218.7h0M1698.1 232.5h0M1662.9 251.4h0M1655.4 260.2h0M1576.2 223.7h0M1581.2 220.0h0M1468.1 145.8h0M1464.3 193.6h0M1470.6 201.1h0M1514.6 209.9h0M1529.7 207.4h0M1530.9 223.7h0M1235.2 266.5h0M1308.1 270.3h0M1315.7 269.1h0M1201.3 414.9h0M1252.8 453.1h0M1256.6 469.7h0M1304.4 480.2h0M1195.0 409.8h0M1215.1 389.7h0M1278.0 277.1h0M1360.9 435.0h0M1349.6 440.0h0M1363.5 407.3h0M1371.0 399.8h0M1381.1 407.3h0M1386.1 418.6h0M1378.5 435.0h0M1411.2 355.8h0M1396.1 362.1h0M1417.5 404.8h0M1426.3 402.3h0M1438.9 403.5h0M1421.3 424.9h0M1416.2 435.0h0M1451.4 457.6h0M1431.3 485.2h0M1448.9 500.3h0M1340.8 510.4h0M1320.7 514.2h0M1330.8 264.0h0M1340.8 270.3h0M1363.5 262.8h0M1372.3 275.3h0M1382.3 294.2h0M1383.6 319.3h0M1656.6 440.0h0M1699.4 475.2h0M1593.8 358.3h0M1654.1 365.8h0M1676.7 352.0h0M1681.8 264.0h0M1705.6 264.0h0M1655.4 262.0h0M1644.1 319.3h0M1505.8 495.3h0M1553.6 491.5h0M1536.0 404.8h0M1547.3 417.4h0M1554.8 316.8h0M1578.7 339.4h0M1566.1 359.6h0M1553.6 354.5h0M1510.8 368.4h0M1495.7 382.2h0M1500.8 389.7h0M1503.3 401.0h0M1510.8 407.3h0M1518.4 422.4h0M1528.4 429.9h0M1468.1 339.4h0M1480.7 331.9h0M1485.7 344.5h0M1418.0 184.9h0M1509.1 167.7h0M1400.7 307.8h0M1382.5 319.3h0M1489.0 330.8h0M1500.5 323.1h0" stroke="#8cd23a" stroke-width="6.0"/>
<path d="M1244.0 21.4h0M1296.8 5.0h0M1202.6 73.4h0M1231.5 84.2h0M1252.8 83.0h0M1283.0 131.2h0M1417.5 60.3h0M1376.0 59.8h0M1445.2 134.5h0M1377.3 179.7h0M1325.7 194.1h0M1311.9 47.8h0M1353.4 13.8h0M1394.9 5.0h0M1270.4 108.1h0M1455.5 72.9h0M1536.0 86.7h0M1581.2 57.3h0M1517.9 103.1h0M1551.5 125.7h0M1547.3 165.9h0M1592.5 199.8h0M1621.4 183.0h0M1664.2 167.9h0M1635.3 140.3h0M1664.2 198.6h0M1696.3 194.8h0M1640.3 225.0h0M1645.3 222.5h0M1544.8 245.1h0M1569.9 235.0h0M1227.7 276.6h0M1242.8 280.4h0M1327.8 335.7h0M1319.0 396.0h0M1200.1 452.6h0M1362.2 443.8h0M1397.4 399.8h0M1371.0 480.2h0M1376.0 497.8h0M1452.7 465.1h0M1406.2 374.6h0M1416.2 370.9h0M1381.1 284.1h0M1398.6 304.2h0M1574.9 398.5h0M1704.4 419.9h0M1563.6 510.4h0M1576.2 507.9h0M1583.7 355.8h0M1611.4 358.3h0M1646.6 367.1h0M1661.6 362.1h0M1669.2 359.6h0M1684.3 347.0h0M1600.1 279.1h0M1647.8 280.4h0M1499.5 460.1h0M1507.0 470.2h0M1538.5 397.3h0M1509.6 313.0h0M1378.6 181.1h0M1373.8 174.4h0M1383.4 207.0h0M1450.6 211.8h0M1514.9 208.9h0M1530.2 207.0h0M1381.5 294.3h0M1379.6 282.8h0M1512.0 315.4h0M1477.5 332.7h0M1517.8 267.5h0M1416.1 250.2h0" stroke="#8cd23a" stroke-width="7.0"/>
<path d="M1289.3 15.6h0M1378.5 87.5h0M1387.3 53.3h0M1454.0 72.9h0M1358.4 165.9h0M1360.9 252.6h0M1232.7 253.9h0M1305.6 54.0h0M1345.9 6.3h0M1500.8 77.9h0M1544.8 81.7h0M1495.7 120.2h0M1581.2 232.5h0M1592.5 401.0h0M1603.8 359.6h0M1620.2 362.1h0M1396.9 280.9h0M1469.8 200.3h0M1442.9 223.3h0M1538.9 245.4h0M1533.1 263.6h0M1538.9 167.7h0M1544.6 173.4h0M1534.1 316.4h0M1542.7 325.0h0M1543.7 342.3h0M1487.1 346.1h0M1454.4 305.8h0M1435.2 302.0h0M1408.4 319.3h0M1398.8 303.9h0M1511.0 307.8h0M1504.3 302.0h0M1492.8 302.0h0M1510.1 271.3h0M1414.1 256.0h0" stroke="#8cd23a" stroke-width="8.0"/>
<path d="M1634.0 223.7h0M1660.4 446.3h0M1483.2 311.6h0M1450.6 347.1h0M1442.9 317.4h0" stroke="#8cd23a" stroke-width="9.0"/>
<path d="M1448.7 300.1h0" stroke="#8cd23a" stroke-width="10.0"/>
<path d="M1569.1 501.6h0" stroke="#8cd23a" stroke-width="11.0"/>
<path d="M1244.0 46.0h0M1299.4 61.6h0M1514.6 441.3h0M1389.2 209.9h0" stroke="#9cd43a" stroke-width="6.0"/>
<path d="M1430.1 18.9h0M1245.8 37.7h0M1457.7 109.4h0M1324.5 145.3h0M1542.2 91.8h0M1458.5 109.4h0M1541.0 167.2h0M1592.5 238.3h0M1528.4 247.6h0M1563.6 242.6h0M1465.6 213.7h0M1235.2 304.2h0M1343.3 360.1h0M1276.2 399.8h0M1412.5 457.1h0M1403.7 316.8h0M1533.4 262.8h0M1542.7 324.9h0M1542.7 343.2h0M1476.9 398.0h0M1515.8 296.7h0M1460.5 334.4h0M1502.4 226.2h0M1398.8 337.5h0M1381.5 341.3h0" stroke="#9cd43a" stroke-width="7.0"/>
<path d="M1257.9 23.1h0M1369.7 173.5h0M1388.6 192.3h0M1265.4 191.6h0M1437.6 207.4h0M1630.2 179.0h0M1674.2 158.4h0M1656.6 202.4h0M1670.4 208.1h0M1510.8 245.1h0M1520.9 242.6h0M1536.0 243.8h0M1335.3 288.7h0M1381.6 340.7h0M1398.1 338.2h0M1335.8 410.6h0M1335.3 480.7h0M1368.5 437.0h0M1396.1 414.9h0M1393.6 427.4h0M1394.9 445.0h0M1455.5 378.4h0M1687.3 386.7h0M1605.8 406.1h0M1679.2 450.1h0M1644.1 482.7h0M1643.5 501.6h0M1524.6 305.5h0M1533.4 316.8h0M1510.8 304.2h0M1458.0 344.5h0M1420.9 178.2h0M1419.9 197.4h0M1389.2 191.7h0M1466.0 213.7h0M1477.5 217.6h0M1485.1 221.4h0M1462.1 223.3h0" stroke="#9cd43a" stroke-width="8.0"/>
<path d="M1401.9 22.6h0M1221.4 66.6h0M1383.6 101.8h0M1435.9 59.8h0M1337.1 152.1h0M1637.8 13.8h0M1701.9 207.4h0M1299.4 277.1h0M1255.9 340.7h0M1323.2 384.7h0M1267.9 453.1h0M1404.9 482.2h0M1377.3 514.9h0M1657.9 401.8h0M1717.5 445.5h0M1679.2 492.3h0M1439.1 207.0h0M1524.5 305.8h0M1465.0 323.1h0M1439.1 357.7h0" stroke="#9cd43a" stroke-width="9.0"/>
<path d="M1421.3 177.2h0M1660.4 194.8h0M1388.6 462.6h0M1419.9 288.6h0M1531.2 244.4h0M1519.7 240.6h0M1515.8 296.3h0M1469.8 313.5h0M1464.0 332.7h0M1456.4 342.3h0M1429.5 323.1h0M1421.8 323.1h0M1416.1 317.4h0" stroke="#9cd43a" stroke-width="10.0"/>
<path d="M1402.6 279.0h0" stroke="#9cd43a" stroke-width="11.0"/>
<path d="M1236.5 168.9h0M1455.2 378.4h0M1525.9 460.1h0" stroke="#a0d43a" stroke-width="8.0"/>
<path d="M1244.0 67.9h0M1457.7 133.2h0M1346.6 199.8h0M1314.4 226.2h0M1459.3 133.2h0M1554.8 243.8h0M1363.5 488.3h0M1310.7 508.4h0M1438.9 359.6h0M1572.4 353.3h0M1556.6 430.4h0M1720.7 335.7h0" stroke="#a0d43a" stroke-width="9.0"/>
<path d="M1401.2 206.1h0M1218.9 284.1h0M1555.6 333.9h0M1523.9 375.1h0M1465.1 426.9h0M1637.8 365.8h0M1631.5 375.1h0M1531.2 161.9h0" stroke="#a0d43a" stroke-width="10.0"/>
<path d="M1530.9 159.6h0M1585.0 201.1h0M1236.0 426.9h0M1308.1 446.3h0M1496.2 350.0h0M1496.7 350.0h0" stroke="#a0d43a" stroke-width="12.0"/>
<path d="M1451.4 13.8h0M1296.8 126.9h0M1613.1 456.3h0" stroke="#a0d43a" stroke-width="13.0"/>
<path d="M1399.9 387.2h0M1485.7 506.6h0M1634.0 369.6h0" stroke="#a0d43a" stroke-width="14.0"/>
<path d="M1200.1 32.7h0" stroke="#e2e82c" stroke-width="3.0"/>
<path d="M1232.7 60.3h0M1377.3 108.1h0M1417.5 44.7h0M1420.0 155.4h0M1254.1 216.7h0M1201.3 189.0h0M1197.5 172.2h0M1338.3 242.6h0M1340.8 10.1h0M1328.3 3.8h0M1260.4 95.5h0M1276.7 110.6h0M1285.0 117.6h0M1254.1 130.7h0M1250.3 140.8h0M1210.1 149.6h0M1222.7 153.3h0M1240.3 148.3h0M1246.6 105.6h0M1278.0 169.7h0M1350.9 187.3h0M1441.4 148.3h0M1355.9 233.8h0M1548.5 90.0h0M1485.7 125.2h0M1504.5 114.4h0M1547.3 176.0h0M1606.3 189.8h0M1644.1 172.2h0M1695.6 125.7h0M1646.6 128.7h0M1666.7 86.7h0M1674.2 84.2h0M1662.9 251.4h0M1655.4 260.2h0M1581.2 220.0h0M1486.9 16.3h0M1468.1 145.8h0M1459.3 149.6h0M1464.3 193.6h0M1470.6 201.1h0M1514.6 209.9h0M1529.7 207.4h0M1530.9 223.7h0M1541.0 226.2h0M1561.1 214.9h0M1308.1 270.3h0M1315.7 269.1h0M1195.0 409.8h0M1205.1 402.3h0M1215.1 389.7h0M1227.7 385.9h0M1278.0 277.1h0M1349.6 440.0h0M1363.5 407.3h0M1371.0 399.8h0M1381.1 407.3h0M1378.5 435.0h0M1411.2 355.8h0M1396.1 362.1h0M1417.5 404.8h0M1426.3 402.3h0M1438.9 403.5h0M1421.3 424.9h0M1416.2 435.0h0M1451.4 457.6h0M1431.3 485.2h0M1340.8 510.4h0M1320.7 514.2h0M1330.8 264.0h0M1340.8 270.3h0M1372.3 275.3h0M1383.6 319.3h0M1656.6 440.0h0M1676.7 352.0h0M1655.4 262.0h0M1566.1 359.6h0M1510.8 368.4h0M1495.7 382.2h0M1500.8 389.7h0M1510.8 407.3h0M1518.4 422.4h0M1528.4 429.9h0M1468.1 446.3h0M1470.6 460.1h0M1480.7 331.9h0M1485.7 344.5h0M1708.2 319.3h0M1603.8 480.2h0M1659.1 482.7h0M1699.4 480.2h0M1418.0 184.9h0M1400.7 307.8h0M1382.5 319.3h0" stroke="#e2e82c" stroke-width="4.0"/>
<path d="M1244.0 21.4h0M1296.8 5.0h0M1202.6 73.4h0M1231.5 84.2h0M1252.8 83.0h0M1283.0 131.2h0M1417.5 60.3h0M1376.0 59.8h0M1445.2 134.5h0M1377.3 179.7h0M1325.7 194.1h0M1311.9 47.8h0M1353.4 13.8h0M1394.9 5.0h0M1270.4 108.1h0M1249.1 150.8h0M1244.0 160.9h0M1227.7 163.4h0M1220.2 158.4h0M1211.4 155.9h0M1232.7 152.1h0M1455.5 72.9h0M1536.0 86.7h0M1581.2 57.3h0M1517.9 103.1h0M1551.5 125.7h0M1547.3 165.9h0M1553.6 179.7h0M1592.5 199.8h0M1605.1 201.1h0M1613.9 185.5h0M1621.4 183.0h0M1637.8 176.0h0M1664.2 167.9h0M1673.0 144.5h0M1689.3 138.3h0M1635.3 140.3h0M1664.2 198.6h0M1696.3 194.8h0M1713.2 188.0h0M1640.3 225.0h0M1645.3 222.5h0M1593.8 218.7h0M1698.1 232.5h0M1544.8 245.1h0M1569.9 235.0h0M1576.2 223.7h0M1227.7 276.6h0M1235.2 266.5h0M1242.8 280.4h0M1327.8 335.7h0M1319.0 396.0h0M1201.3 414.9h0M1200.1 452.6h0M1252.8 453.1h0M1256.6 469.7h0M1304.4 480.2h0M1362.2 443.8h0M1397.4 399.8h0M1371.0 480.2h0M1376.0 497.8h0M1452.7 465.1h0M1360.9 435.0h0M1386.1 418.6h0M1406.2 374.6h0M1416.2 370.9h0M1448.9 500.3h0M1363.5 262.8h0M1381.1 284.1h0M1382.3 294.2h0M1398.6 304.2h0M1574.9 398.5h0M1704.4 419.9h0M1699.4 475.2h0M1563.6 510.4h0M1576.2 507.9h0M1583.7 355.8h0M1593.8 358.3h0M1611.4 358.3h0M1646.6 367.1h0M1654.1 365.8h0M1661.6 362.1h0M1669.2 359.6h0M1684.3 347.0h0M1600.1 279.1h0M1647.8 280.4h0M1681.8 264.0h0M1705.6 264.0h0M1644.1 319.3h0M1499.5 460.1h0M1507.0 470.2h0M1505.8 495.3h0M1553.6 491.5h0M1538.5 397.3h0M1536.0 404.8h0M1547.3 417.4h0M1509.6 313.0h0M1554.8 316.8h0M1578.7 339.4h0M1553.6 354.5h0M1503.3 401.0h0M1468.1 339.4h0M1378.6 181.1h0M1373.8 174.4h0M1383.4 207.0h0M1450.6 211.8h0M1514.9 208.9h0M1530.2 207.0h0M1509.1 167.7h0M1381.5 294.3h0M1379.6 282.8h0M1512.0 315.4h0M1477.5 332.7h0M1489.0 330.8h0M1500.5 323.1h0M1517.8 267.5h0M1416.1 250.2h0" stroke="#e2e82c" stroke-width="5.0"/>
<path d="M1289.3 15.6h0M1378.5 87.5h0M1387.3 53.3h0M1454.0 72.9h0M1358.4 165.9h0M1360.9 252.6h0M1232.7 253.9h0M1305.6 54.0h0M1345.9 6.3h0M1500.8 77.9h0M1544.8 81.7h0M1495.7 120.2h0M1581.2 232.5h0M1592.5 401.0h0M1603.8 359.6h0M1620.2 362.1h0M1396.9 280.9h0M1469.8 200.3h0M1442.9 223.3h0M1538.9 245.4h0M1533.1 263.6h0M1538.9 167.7h0M1544.6 173.4h0M1534.1 316.4h0M1542.7 325.0h0M1543.7 342.3h0M1487.1 346.1h0M1454.4 305.8h0M1435.2 302.0h0M1408.4 319.3h0M1398.8 303.9h0M1511.0 307.8h0M1504.3 302.0h0M1492.8 302.0h0M1510.1 271.3h0M1414.1 256.0h0" stroke="#e2e82c" stroke-width="6.0"/>
<path d="M1634.0 223.7h0M1660.4 446.3h0M1483.2 311.6h0M1450.6 347.1h0M1442.9 317.4h0" stroke="#e2e82c" stroke-width="8.0"/>
<path d="M1448.7 300.1h0" stroke="#e2e82c" stroke-width="9.0"/>
<path d="M1569.1 501.6h0" stroke="#e2e82c" stroke-width="10.0"/>
<path d="M1244.0 46.0h0M1299.4 61.6h0M1389.2 209.9h0" stroke="#ecdc2a" stroke-width="4.0"/>
<path d="M1430.1 18.9h0M1245.8 37.7h0M1457.7 109.4h0M1324.5 145.3h0M1542.2 91.8h0M1458.5 109.4h0M1541.0 167.2h0M1592.5 238.3h0M1528.4 247.6h0M1563.6 242.6h0M1465.6 213.7h0M1235.2 304.2h0M1343.3 360.1h0M1276.2 399.8h0M1412.5 457.1h0M1403.7 316.8h0M1533.4 262.8h0M1542.7 324.9h0M1542.7 343.2h0M1476.9 398.0h0M1514.6 441.3h0M1515.8 296.7h0M1460.5 334.4h0M1502.4 226.2h0M1398.8 337.5h0M1381.5 341.3h0" stroke="#ecdc2a" stroke-width="5.0"/>
<path d="M1257.9 23.1h0M1369.7 173.5h0M1388.6 192.3h0M1265.4 191.6h0M1437.6 207.4h0M1630.2 179.0h0M1674.2 158.4h0M1656.6 202.4h0M1670.4 208.1h0M1510.8 245.1h0M1520.9 242.6h0M1536.0 243.8h0M1335.3 288.7h0M1381.6 340.7h0M1398.1 338.2h0M1335.8 410.6h0M1335.3 480.7h0M1368.5 437.0h0M1396.1 414.9h0M1393.6 427.4h0M1394.9 445.0h0M1455.5 378.4h0M1687.3 386.7h0M1605.8 406.1h0M1679.2 450.1h0M1644.1 482.7h0M1643.5 501.6h0M1524.6 305.5h0M1533.4 316.8h0M1510.8 304.2h0M1458.0 344.5h0M1420.9 178.2h0M1419.9 197.4h0M1389.2 191.7h0M1466.0 213.7h0M1477.5 217.6h0M1485.1 221.4h0M1462.1 223.3h0" stroke="#ecdc2a" stroke-width="6.0"/>
<path d="M1401.9 22.6h0M1221.4 66.6h0M1383.6 101.8h0M1435.9 59.8h0M1337.1 152.1h0M1637.8 13.8h0M1701.9 207.4h0M1299.4 277.1h0M1255.9 340.7h0M1323.2 384.7h0M1267.9 453.1h0M1404.9 482.2h0M1377.3 514.9h0M1657.9 401.8h0M1717.5 445.5h0M1679.2 492.3h0M1439.1 207.0h0M1524.5 305.8h0M1465.0 323.1h0M1439.1 357.7h0" stroke="#ecdc2a" stroke-width="8.0"/>
<path d="M1421.3 177.2h0M1660.4 194.8h0M1388.6 462.6h0M1419.9 288.6h0M1531.2 244.4h0M1519.7 240.6h0M1515.8 296.3h0M1469.8 313.5h0M1464.0 332.7h0M1456.4 342.3h0M1429.5 323.1h0M1421.8 323.1h0M1416.1 317.4h0" stroke="#ecdc2a" stroke-width="9.0"/>
<path d="M1402.6 279.0h0" stroke="#ecdc2a" stroke-width="10.0"/>
<path d="M1236.5 168.9h0M1455.2 378.4h0M1525.9 460.1h0" stroke="#f0d826" stroke-width="7.0"/>
<path d="M1244.0 67.9h0M1457.7 133.2h0M1346.6 199.8h0M1314.4 226.2h0M1459.3 133.2h0M1554.8 243.8h0M1363.5 488.3h0M1310.7 508.4h0M1438.9 359.6h0M1572.4 353.3h0M1556.6 430.4h0M1720.7 335.7h0" stroke="#f0d826" stroke-width="8.0"/>
<path d="M1401.2 206.1h0M1218.9 284.1h0M1555.6 333.9h0M1523.9 375.1h0M1465.1 426.9h0M1637.8 365.8h0M1631.5 375.1h0M1531.2 161.9h0" stroke="#f0d826" stroke-width="9.0"/>
<path d="M1530.9 159.6h0M1585.0 201.1h0M1236.0 426.9h0M1308.1 446.3h0M1496.2 350.0h0M1496.7 350.0h0" stroke="#f0d826" stroke-width="10.0"/>
<path d="M1451.4 13.8h0M1296.8 126.9h0M1613.1 456.3h0" stroke="#f0d826" stroke-width="11.0"/>
<path d="M1399.9 387.2h0M1485.7 506.6h0M1634.0 369.6h0" stroke="#f0d826" stroke-width="12.0"/>
<path d="M1244.0 46.0h0M1299.4 61.6h0M1514.6 441.3h0M1389.2 209.9h0" stroke="#fb9a20" stroke-width="3.0"/>
<path d="M1430.1 18.9h0M1245.8 37.7h0M1457.7 109.4h0M1324.5 145.3h0M1542.2 91.8h0M1458.5 109.4h0M1541.0 167.2h0M1592.5 238.3h0M1528.4 247.6h0M1563.6 242.6h0M1465.6 213.7h0M1235.2 304.2h0M1343.3 360.1h0M1276.2 399.8h0M1412.5 457.1h0M1403.7 316.8h0M1533.4 262.8h0M1542.7 324.9h0M1542.7 343.2h0M1476.9 398.0h0M1515.8 296.7h0M1460.5 334.4h0M1502.4 226.2h0M1398.8 337.5h0M1381.5 341.3h0" stroke="#fb9a20" stroke-width="4.0"/>
<path d="M1257.9 23.1h0M1369.7 173.5h0M1388.6 192.3h0M1265.4 191.6h0M1437.6 207.4h0M1630.2 179.0h0M1674.2 158.4h0M1656.6 202.4h0M1670.4 208.1h0M1510.8 245.1h0M1520.9 242.6h0M1536.0 243.8h0M1335.3 288.7h0M1381.6 340.7h0M1398.1 338.2h0M1335.8 410.6h0M1335.3 480.7h0M1368.5 437.0h0M1396.1 414.9h0M1393.6 427.4h0M1394.9 445.0h0M1455.5 378.4h0M1687.3 386.7h0M1605.8 406.1h0M1679.2 450.1h0M1644.1 482.7h0M1643.5 501.6h0M1524.6 305.5h0M1533.4 316.8h0M1510.8 304.2h0M1458.0 344.5h0M1420.9 178.2h0M1419.9 197.4h0M1389.2 191.7h0M1466.0 213.7h0M1477.5 217.6h0M1485.1 221.4h0M1462.1 223.3h0" stroke="#fb9a20" stroke-width="5.0"/>
<path d="M1401.9 22.6h0M1221.4 66.6h0M1383.6 101.8h0M1435.9 59.8h0M1337.1 152.1h0M1637.8 13.8h0M1701.9 207.4h0M1299.4 277.1h0M1255.9 340.7h0M1323.2 384.7h0M1267.9 453.1h0M1404.9 482.2h0M1377.3 514.9h0M1657.9 401.8h0M1717.5 445.5h0M1679.2 492.3h0M1439.1 207.0h0M1524.5 305.8h0M1465.0 323.1h0M1439.1 357.7h0" stroke="#fb9a20" stroke-width="6.0"/>
<path d="M1421.3 177.2h0M1660.4 194.8h0M1388.6 462.6h0M1419.9 288.6h0M1531.2 244.4h0M1519.7 240.6h0M1515.8 296.3h0M1469.8 313.5h0M1464.0 332.7h0M1456.4 342.3h0M1429.5 323.1h0M1421.8 323.1h0M1416.1 317.4h0" stroke="#fb9a20" stroke-width="7.0"/>
<path d="M1402.6 279.0h0" stroke="#fb9a20" stroke-width="8.0"/>
<path d="M1236.5 168.9h0M1455.2 378.4h0M1525.9 460.1h0" stroke="#fd8c1a" stroke-width="5.0"/>
<path d="M1244.0 67.9h0M1457.7 133.2h0M1346.6 199.8h0M1314.4 226.2h0M1459.3 133.2h0M1554.8 243.8h0M1363.5 488.3h0M1310.7 508.4h0M1438.9 359.6h0M1572.4 353.3h0M1556.6 430.4h0M1720.7 335.7h0" stroke="#fd8c1a" stroke-width="6.0"/>
<path d="M1401.2 206.1h0M1218.9 284.1h0M1555.6 333.9h0M1523.9 375.1h0M1465.1 426.9h0M1637.8 365.8h0M1631.5 375.1h0M1531.2 161.9h0" stroke="#fd8c1a" stroke-width="7.0"/>
<path d="M1530.9 159.6h0M1585.0 201.1h0M1236.0 426.9h0M1308.1 446.3h0M1496.2 350.0h0M1496.7 350.0h0" stroke="#fd8c1a" stroke-width="9.0"/>
<path d="M1451.4 13.8h0M1296.8 126.9h0M1613.1 456.3h0" stroke="#fd8c1a" stroke-width="10.0"/>
<path d="M1399.9 387.2h0M1485.7 506.6h0M1634.0 369.6h0" stroke="#fd8c1a" stroke-width="11.0"/>
<path d="M1236.5 168.9h0M1455.2 378.4h0M1525.9 460.1h0" stroke="#ff3404" stroke-width="3.0"/>
<path d="M1244.0 67.9h0M1457.7 133.2h0M1346.6 199.8h0M1314.4 226.2h0M1459.3 133.2h0M1554.8 243.8h0M1363.5 488.3h0M1310.7 508.4h0M1438.9 359.6h0M1572.4 353.3h0M1556.6 430.4h0M1720.7 335.7h0" stroke="#ff3404" stroke-width="4.0"/>
<path d="M1401.2 206.1h0M1218.9 284.1h0M1555.6 333.9h0M1523.9 375.1h0M1465.1 426.9h0M1637.8 365.8h0M1631.5 375.1h0M1531.2 161.9h0" stroke="#ff3404" stroke-width="5.0"/>
<path d="M1530.9 159.6h0M1585.0 201.1h0M1236.0 426.9h0M1308.1 446.3h0M1496.2 350.0h0M1496.7 350.0h0" stroke="#ff3404" stroke-width="6.0"/>
<path d="M1451.4 13.8h0M1296.8 126.9h0M1613.1 456.3h0" stroke="#ff3404" stroke-width="7.0"/>
<path d="M1399.9 387.2h0M1485.7 506.6h0M1634.0 369.6h0" stroke="#ff3404" stroke-width="8.0"/>
<path d="M1393.2 281.1L1412.0 275.9" stroke="#d8e030" stroke-width="11.5"/>
<path d="M1500.1 248.1L1524.7 243.2" stroke="#d8e030" stroke-width="8.5"/>
<path d="M1511.7 294.7L1526.0 307.7" stroke="#d8e030" stroke-width="7.5"/>
<path d="M1417.8 311.6L1425.0 323.2" stroke="#d8e030" stroke-width="11.5"/>
<path d="M1466.4 306.4L1467.7 328.4" stroke="#d8e030" stroke-width="7.5"/>
<path d="M1441.8 222.2L1444.4 230.0" stroke="#d8e030" stroke-width="5.5"/>
<path d="M1450.9 209.2L1454.8 215.7" stroke="#d8e030" stroke-width="5.5"/>
<path d="M1419.8 289.5L1420.4 290.2" stroke="#d8e030" stroke-width="10.5"/>
<path d="M1444.4 298.6L1447.0 302.5" stroke="#d8e030" stroke-width="8.5"/>
<path d="M1417.2 257.2L1419.8 258.5" stroke="#d8e030" stroke-width="7.5"/>
<path d="M1452.2 230.0L1467.7 231.3" stroke="#d8e030" stroke-width="7.5"/>
<path d="M1395.1 201.8 L1401.9 200.5 L1408.7 202.5 L1414.2 209.3 L1417.6 214.7 L1423.7 215.4 L1430.5 218.8 L1435.9 224.3 L1439.3 231.1 L1440.7 237.2 L1446.8 235.1 L1455.0 232.4 L1463.1 231.1 L1468.6 232.4 L1471.3 228.3 L1476.7 224.9 L1484.9 224.9 L1493.1 227.0 L1497.1 231.1 L1499.2 237.9 L1499.9 246.0 L1500.5 252.8 L1502.6 256.9 L1499.9 262.3 L1500.5 269.1 L1502.6 274.6 L1506.7 280.0 L1510.7 285.5 L1514.1 292.3 L1516.2 299.1 L1509.4 295.0 L1505.3 289.5 L1501.2 285.5 L1495.8 285.5 L1490.3 286.8 L1486.3 292.3 L1482.2 299.1 L1476.7 303.1 L1471.3 307.2 L1468.6 309.9 L1465.9 305.9 L1465.2 299.1 L1463.1 293.6 L1457.7 291.6 L1450.9 292.3 L1444.1 293.6 L1437.3 295.0 L1431.9 297.7 L1427.8 300.4 L1425.1 305.9 L1421.0 311.3 L1417.6 318.1 L1416.2 322.2 L1418.3 312.7 L1421.0 303.1 L1422.3 297.7 L1419.6 292.3 L1414.2 286.8 L1410.1 281.4 L1408.7 274.6 L1410.1 269.1 L1414.2 266.4 L1421.0 265.1 L1427.8 262.3 L1431.9 259.6 L1429.1 255.5 L1425.1 251.5 L1422.3 246.0 L1421.0 240.6 L1421.7 233.8 L1418.3 228.3 L1416.2 221.5 L1414.2 214.7 L1410.1 209.3 L1403.3 206.6 L1396.5 205.2Z" fill="#e4e22a" stroke="#e4e22a" stroke-width="5.5"/>
<path d="M1393.2 281.1L1412.0 275.9" stroke="#fb9420" stroke-width="7.0"/>
<path d="M1500.1 248.1L1524.7 243.2" stroke="#fb9420" stroke-width="4.0"/>
<path d="M1511.7 294.7L1526.0 307.7" stroke="#fb9420" stroke-width="3.0"/>
<path d="M1417.8 311.6L1425.0 323.2" stroke="#fb9420" stroke-width="7.0"/>
<path d="M1466.4 306.4L1467.7 328.4" stroke="#fb9420" stroke-width="3.0"/>
<path d="M1441.8 222.2L1444.4 230.0" stroke="#fb9420" stroke-width="1.5"/>
<path d="M1450.9 209.2L1454.8 215.7" stroke="#fb9420" stroke-width="1.5"/>
<path d="M1419.8 289.5L1420.4 290.2" stroke="#fb9420" stroke-width="6.0"/>
<path d="M1444.4 298.6L1447.0 302.5" stroke="#fb9420" stroke-width="4.0"/>
<path d="M1417.2 257.2L1419.8 258.5" stroke="#fb9420" stroke-width="3.0"/>
<path d="M1452.2 230.0L1467.7 231.3" stroke="#fb9420" stroke-width="3.0"/>
<path d="M1395.1 201.8 L1401.9 200.5 L1408.7 202.5 L1414.2 209.3 L1417.6 214.7 L1423.7 215.4 L1430.5 218.8 L1435.9 224.3 L1439.3 231.1 L1440.7 237.2 L1446.8 235.1 L1455.0 232.4 L1463.1 231.1 L1468.6 232.4 L1471.3 228.3 L1476.7 224.9 L1484.9 224.9 L1493.1 227.0 L1497.1 231.1 L1499.2 237.9 L1499.9 246.0 L1500.5 252.8 L1502.6 256.9 L1499.9 262.3 L1500.5 269.1 L1502.6 274.6 L1506.7 280.0 L1510.7 285.5 L1514.1 292.3 L1516.2 299.1 L1509.4 295.0 L1505.3 289.5 L1501.2 285.5 L1495.8 285.5 L1490.3 286.8 L1486.3 292.3 L1482.2 299.1 L1476.7 303.1 L1471.3 307.2 L1468.6 309.9 L1465.9 305.9 L1465.2 299.1 L1463.1 293.6 L1457.7 291.6 L1450.9 292.3 L1444.1 293.6 L1437.3 295.0 L1431.9 297.7 L1427.8 300.4 L1425.1 305.9 L1421.0 311.3 L1417.6 318.1 L1416.2 322.2 L1418.3 312.7 L1421.0 303.1 L1422.3 297.7 L1419.6 292.3 L1414.2 286.8 L1410.1 281.4 L1408.7 274.6 L1410.1 269.1 L1414.2 266.4 L1421.0 265.1 L1427.8 262.3 L1431.9 259.6 L1429.1 255.5 L1425.1 251.5 L1422.3 246.0 L1421.0 240.6 L1421.7 233.8 L1418.3 228.3 L1416.2 221.5 L1414.2 214.7 L1410.1 209.3 L1403.3 206.6 L1396.5 205.2Z" fill="#fd8a18" stroke="#fd8a18" stroke-width="2.4"/>
<path d="M1395.1 201.8 L1401.9 200.5 L1408.7 202.5 L1414.2 209.3 L1417.6 214.7 L1423.7 215.4 L1430.5 218.8 L1435.9 224.3 L1439.3 231.1 L1440.7 237.2 L1446.8 235.1 L1455.0 232.4 L1463.1 231.1 L1468.6 232.4 L1471.3 228.3 L1476.7 224.9 L1484.9 224.9 L1493.1 227.0 L1497.1 231.1 L1499.2 237.9 L1499.9 246.0 L1500.5 252.8 L1502.6 256.9 L1499.9 262.3 L1500.5 269.1 L1502.6 274.6 L1506.7 280.0 L1510.7 285.5 L1514.1 292.3 L1516.2 299.1 L1509.4 295.0 L1505.3 289.5 L1501.2 285.5 L1495.8 285.5 L1490.3 286.8 L1486.3 292.3 L1482.2 299.1 L1476.7 303.1 L1471.3 307.2 L1468.6 309.9 L1465.9 305.9 L1465.2 299.1 L1463.1 293.6 L1457.7 291.6 L1450.9 292.3 L1444.1 293.6 L1437.3 295.0 L1431.9 297.7 L1427.8 300.4 L1425.1 305.9 L1421.0 311.3 L1417.6 318.1 L1416.2 322.2 L1418.3 312.7 L1421.0 303.1 L1422.3 297.7 L1419.6 292.3 L1414.2 286.8 L1410.1 281.4 L1408.7 274.6 L1410.1 269.1 L1414.2 266.4 L1421.0 265.1 L1427.8 262.3 L1431.9 259.6 L1429.1 255.5 L1425.1 251.5 L1422.3 246.0 L1421.0 240.6 L1421.7 233.8 L1418.3 228.3 L1416.2 221.5 L1414.2 214.7 L1410.1 209.3 L1403.3 206.6 L1396.5 205.2Z" fill="#ff3000"/>
</g>
<ellipse cx="1458" cy="261.5" rx="258.5" ry="254.2" fill="none" stroke="#021802" stroke-width="2.6" filter="url(#cblur)"/>
<rect x="1721.4" y="0" width="1.6" height="520.2" fill="#5f9f5f"/>
<rect x="1192" y="0" width="531" height="0.9" fill="#3c8c3c"/>
<text x="1688.6" y="61" font-size="46" fill="#fff" stroke="#fff" stroke-width="0.9" text-anchor="middle" textLength="20.5" lengthAdjust="spacingAndGlyphs">c</text>
</g>
</svg>
</body></html>
